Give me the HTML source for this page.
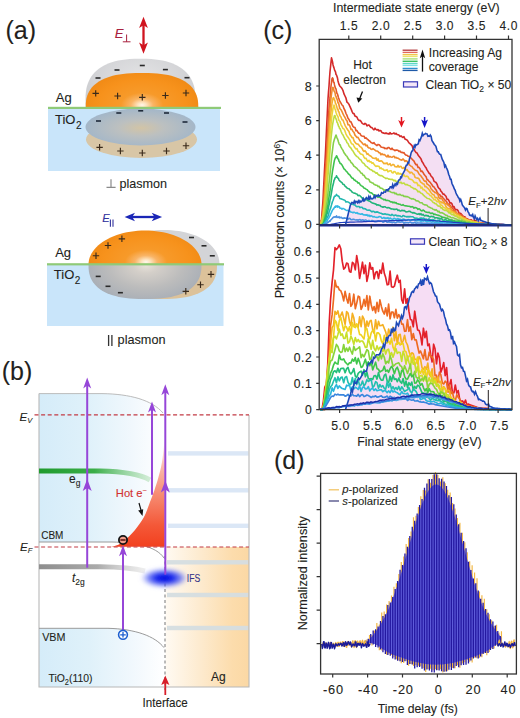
<!DOCTYPE html>
<html><head><meta charset="utf-8"><title>Figure</title>
<style>html,body{margin:0;padding:0;background:#fff;width:520px;height:718px;overflow:hidden} svg text{font-family:"Liberation Sans",sans-serif}</style>
</head><body>
<svg width="520" height="718" viewBox="0 0 520 718" style="display:block;font-family:'Liberation Sans',sans-serif">
<defs>
<radialGradient id="orgA" gradientUnits="userSpaceOnUse" cx="0" cy="0" r="1" gradientTransform="translate(142 105) scale(62 36)">
 <stop offset="0" stop-color="#fff6ea"/><stop offset="0.07" stop-color="#fde2bc"/><stop offset="0.18" stop-color="#f9b464"/>
 <stop offset="0.34" stop-color="#f79a2a"/><stop offset="0.7" stop-color="#f7921c"/><stop offset="1" stop-color="#f08914"/></radialGradient>
<radialGradient id="grayA" gradientUnits="userSpaceOnUse" cx="0" cy="0" r="1" gradientTransform="translate(141 80) scale(60 40)">
 <stop offset="0" stop-color="#e4e4e6"/><stop offset="1" stop-color="#cdced1"/></radialGradient>
<radialGradient id="bgEll" gradientUnits="userSpaceOnUse" cx="0" cy="0" r="1" gradientTransform="translate(141 128) scale(58 20)">
 <stop offset="0" stop-color="#d2c4a6"/><stop offset="0.4" stop-color="#bcc0c0"/><stop offset="1" stop-color="#a2b6c9"/></radialGradient>
<radialGradient id="orgB" gradientUnits="userSpaceOnUse" cx="0" cy="0" r="1" gradientTransform="translate(146 262) scale(62 36)">
 <stop offset="0" stop-color="#fff8ee"/><stop offset="0.07" stop-color="#fde4c0"/><stop offset="0.18" stop-color="#f9b466"/>
 <stop offset="0.34" stop-color="#f79a2a"/><stop offset="0.7" stop-color="#f7921c"/><stop offset="1" stop-color="#f08914"/></radialGradient>
<radialGradient id="silB" gradientUnits="userSpaceOnUse" cx="0" cy="0" r="1" gradientTransform="translate(146 266) scale(62 36)">
 <stop offset="0" stop-color="#e6e0d8"/><stop offset="0.2" stop-color="#d4cfc9"/><stop offset="0.6" stop-color="#bcbcbc"/>
 <stop offset="1" stop-color="#a8aeb6"/></radialGradient>
<linearGradient id="tio2L" x1="0" x2="1" y1="0" y2="0">
 <stop offset="0" stop-color="#d5ecf9"/><stop offset="0.4" stop-color="#dff1fa"/><stop offset="0.75" stop-color="#f1f8fd"/><stop offset="1" stop-color="#ffffff"/></linearGradient>
<linearGradient id="agR" x1="0" x2="1" y1="0" y2="0">
 <stop offset="0" stop-color="#fffaf2"/><stop offset="0.4" stop-color="#fdebd0"/><stop offset="0.8" stop-color="#fcdcac"/><stop offset="1" stop-color="#fbd8a4"/></linearGradient>
<linearGradient id="hotE" gradientUnits="userSpaceOnUse" x1="0" x2="0" y1="547" y2="438">
 <stop offset="0" stop-color="#f2401e"/><stop offset="0.2" stop-color="#f45838"/><stop offset="0.45" stop-color="#f6866c"/><stop offset="0.75" stop-color="#fabcae"/><stop offset="1" stop-color="#fdeae6" stop-opacity="0.5"/></linearGradient>
<linearGradient id="egG" x1="0" x2="1" y1="0" y2="0">
 <stop offset="0" stop-color="#1f9a2e"/><stop offset="0.5" stop-color="#3aae48"/><stop offset="1" stop-color="#b9e3bd" stop-opacity="0.6"/></linearGradient>
<linearGradient id="t2gG" x1="0" x2="1" y1="0" y2="0">
 <stop offset="0" stop-color="#8e8e8e"/><stop offset="0.55" stop-color="#aaaaaa"/><stop offset="1" stop-color="#e4e4e4" stop-opacity="0.6"/></linearGradient>
<radialGradient id="ifs" cx="0.5" cy="0.5" r="0.5">
 <stop offset="0" stop-color="#0006d8"/><stop offset="0.35" stop-color="#1020ec"/><stop offset="0.7" stop-color="#4a5af4" stop-opacity="0.7"/><stop offset="1" stop-color="#8a96fa" stop-opacity="0"/></radialGradient>
<filter id="blur1"><feGaussianBlur stdDeviation="0.6"/></filter>
<filter id="blur2" x="-30%" y="-60%" width="160%" height="220%"><feGaussianBlur stdDeviation="1.9"/></filter>
<clipPath id="aboveA"><rect x="0" y="0" width="260" height="108"/></clipPath>
<clipPath id="belowA"><rect x="0" y="108" width="260" height="100"/></clipPath>
<clipPath id="aboveB"><rect x="0" y="200" width="260" height="64.5"/></clipPath>
<clipPath id="belowB"><rect x="0" y="264.5" width="260" height="100"/></clipPath>
<marker id="ah" viewBox="0 0 10 10" refX="9" refY="5" markerWidth="4" markerHeight="4" orient="auto"><path d="M0 0L10 5L0 10z" fill="#000"/></marker>
</defs><rect width="520" height="718" fill="#fff"/><text x="5.5" y="39.1" font-size="25" fill="#231f20" stroke="#231f20" stroke-width="0.1" text-anchor="start" >(a)</text>
<path d="M143.5 24V47" stroke="#d0141f" stroke-width="2.3"/>
<path d="M139.1 28L143.5 16.7L147.9 28L143.5 25.2Z M139.1 42.5L143.5 53.8L147.9 42.5L143.5 45.3Z" fill="#d0141f"/>
<text x="114.8" y="37.9" font-size="13.2" font-style="italic" fill="#a8213e" stroke="#a8213e" stroke-width="0.1">E</text>
<path d="M122.8 41.8H130.5M126.6 34.5V41.8" stroke="#a8213e" stroke-width="1"/>
<rect x="48" y="108" width="172" height="63" fill="#c9e5fa"/>
<ellipse cx="141.5" cy="139.5" rx="55.5" ry="18.5" fill="#d9c29c" opacity="0.9"/>
<ellipse cx="140.5" cy="127" rx="55" ry="18.5" fill="url(#bgEll)"/>
<path d="M195.50 100.00 L195.41 104.65 L195.12 108.08 L194.65 111.15 L194.00 113.97 L193.15 116.62 L192.12 119.11 L190.91 121.45 L189.52 123.66 L187.95 125.74 L186.20 127.70 L184.28 129.52 L182.18 131.22 L179.91 132.79 L177.48 134.24 L174.87 135.54 L172.09 136.72 L169.14 137.76 L166.01 138.67 L162.68 139.44 L159.15 140.07 L155.38 140.57 L151.29 140.92 L146.71 141.13 L140.50 141.20 L134.29 141.13 L129.71 140.92 L125.62 140.57 L121.85 140.07 L118.32 139.44 L114.99 138.67 L111.86 137.76 L108.91 136.72 L106.13 135.54 L103.52 134.24 L101.09 132.79 L98.82 131.22 L96.72 129.52 L94.80 127.70 L93.05 125.74 L91.48 123.66 L90.09 121.45 L88.88 119.11 L87.85 116.62 L87.00 113.97 L86.35 111.15 L85.88 108.08 L85.59 104.65 L85.50 100.00 L85.59 95.35 L85.88 91.92 L86.35 88.85 L87.00 86.03 L87.85 83.38 L88.88 80.89 L90.09 78.55 L91.48 76.34 L93.05 74.26 L94.80 72.30 L96.72 70.48 L98.82 68.78 L101.09 67.21 L103.52 65.76 L106.13 64.46 L108.91 63.28 L111.86 62.24 L114.99 61.33 L118.32 60.56 L121.85 59.93 L125.62 59.43 L129.71 59.08 L134.29 58.87 L140.50 58.80 L146.71 58.87 L151.29 59.08 L155.38 59.43 L159.15 59.93 L162.68 60.56 L166.01 61.33 L169.14 62.24 L172.09 63.28 L174.87 64.46 L177.48 65.76 L179.91 67.21 L182.18 68.78 L184.28 70.48 L186.20 72.30 L187.95 74.26 L189.52 76.34 L190.91 78.55 L192.12 80.89 L193.15 83.38 L194.00 86.03 L194.65 88.85 L195.12 91.92 L195.41 95.35Z" fill="url(#grayA)" clip-path="url(#aboveA)"/>
<path d="M198.30 107.30 L198.20 111.17 L197.91 114.03 L197.43 116.58 L196.76 118.93 L195.90 121.13 L194.84 123.21 L193.61 125.16 L192.18 127.00 L190.57 128.73 L188.78 130.36 L186.81 131.88 L184.67 133.29 L182.35 134.60 L179.85 135.80 L177.18 136.89 L174.34 137.87 L171.31 138.74 L168.11 139.49 L164.71 140.14 L161.09 140.66 L157.23 141.07 L153.04 141.37 L148.35 141.54 L142.00 141.60 L135.65 141.54 L130.96 141.37 L126.77 141.07 L122.91 140.66 L119.29 140.14 L115.89 139.49 L112.69 138.74 L109.66 137.87 L106.82 136.89 L104.15 135.80 L101.65 134.60 L99.33 133.29 L97.19 131.88 L95.22 130.36 L93.43 128.73 L91.82 127.00 L90.39 125.16 L89.16 123.21 L88.10 121.13 L87.24 118.93 L86.57 116.58 L86.09 114.03 L85.80 111.17 L85.70 107.30 L85.80 103.43 L86.09 100.57 L86.57 98.02 L87.24 95.67 L88.10 93.47 L89.16 91.39 L90.39 89.44 L91.82 87.60 L93.43 85.87 L95.22 84.24 L97.19 82.72 L99.33 81.31 L101.65 80.00 L104.15 78.80 L106.82 77.71 L109.66 76.73 L112.69 75.86 L115.89 75.11 L119.29 74.46 L122.91 73.94 L126.77 73.53 L130.96 73.23 L135.65 73.06 L142.00 73.00 L148.35 73.06 L153.04 73.23 L157.23 73.53 L161.09 73.94 L164.71 74.46 L168.11 75.11 L171.31 75.86 L174.34 76.73 L177.18 77.71 L179.85 78.80 L182.35 80.00 L184.67 81.31 L186.81 82.72 L188.78 84.24 L190.57 85.87 L192.18 87.60 L193.61 89.44 L194.84 91.39 L195.90 93.47 L196.76 95.67 L197.43 98.02 L197.91 100.57 L198.20 103.43Z" fill="url(#orgA)" clip-path="url(#aboveA)"/>
<rect x="48" y="106.8" width="173" height="2.2" fill="#8fca78"/>
<text x="55.8" y="102.4" font-size="13" fill="#231f20" stroke="#231f20" stroke-width="0.1" text-anchor="start" >Ag</text>
<text x="55" y="123.9" font-size="13" fill="#231f20" stroke="#231f20" stroke-width="0.1">TiO<tspan font-size="10" dy="5.2" dx="0.6">2</tspan></text>
<path d="M95.5 78H100.5" stroke="#2a2a2a" stroke-width="1.6" fill="none"/>
<path d="M114.5 70H119.5" stroke="#2a2a2a" stroke-width="1.6" fill="none"/>
<path d="M139.8 65.5H144.8" stroke="#2a2a2a" stroke-width="1.6" fill="none"/>
<path d="M162.9 69.6H167.9" stroke="#2a2a2a" stroke-width="1.6" fill="none"/>
<path d="M184.5 77.7H189.5" stroke="#2a2a2a" stroke-width="1.6" fill="none"/>
<path d="M92.5 93.4H98.9M95.7 90.2V96.6" stroke="#3a2a1a" stroke-width="1.15" fill="none"/>
<path d="M114.4 96H120.8M117.6 92.8V99.2" stroke="#3a2a1a" stroke-width="1.15" fill="none"/>
<path d="M139.1 97.3H145.5M142.3 94.1V100.5" stroke="#3a2a1a" stroke-width="1.15" fill="none"/>
<path d="M162.2 95.5H168.6M165.4 92.3V98.7" stroke="#3a2a1a" stroke-width="1.15" fill="none"/>
<path d="M182.8 93H189.2M186 89.8V96.2" stroke="#3a2a1a" stroke-width="1.15" fill="none"/>
<path d="M96 121H101" stroke="#1e2a3a" stroke-width="1.6" fill="none"/>
<path d="M116.3 113H121.3" stroke="#1e2a3a" stroke-width="1.6" fill="none"/>
<path d="M138.2 110.8H143.2" stroke="#1e2a3a" stroke-width="1.6" fill="none"/>
<path d="M164 113H169" stroke="#1e2a3a" stroke-width="1.6" fill="none"/>
<path d="M182.5 122H187.5" stroke="#1e2a3a" stroke-width="1.6" fill="none"/>
<path d="M96.4 147.3H102.8M99.6 144.1V150.5" stroke="#3a2a1a" stroke-width="1.15" fill="none"/>
<path d="M117.2 151H123.6M120.4 147.8V154.2" stroke="#3a2a1a" stroke-width="1.15" fill="none"/>
<path d="M139.1 153H145.5M142.3 149.8V156.2" stroke="#3a2a1a" stroke-width="1.15" fill="none"/>
<path d="M163.3 151H169.7M166.5 147.8V154.2" stroke="#3a2a1a" stroke-width="1.15" fill="none"/>
<path d="M182.8 145.7H189.2M186 142.5V148.9" stroke="#3a2a1a" stroke-width="1.15" fill="none"/>
<path d="M106.5 187.4H115.6M111 179.2V187.4" stroke="#8a8a8a" stroke-width="1.2"/>
<text x="119.5" y="187.9" font-size="12.6" fill="#231f20" stroke="#231f20" stroke-width="0.1" text-anchor="start" >plasmon</text>
<text x="102.2" y="221.6" font-size="11.2" font-style="italic" fill="#34349e" stroke="#34349e" stroke-width="0.1">E</text>
<path d="M110.4 219.5V226.7M113 219.5V226.7" stroke="#34349e" stroke-width="1.1"/>
<path d="M131 217H156" stroke="#1a26b6" stroke-width="2.3"/>
<path d="M135 212.7L124.6 217L135 221.3L132.2 217Z M151.7 212.7L162.1 217L151.7 221.3L154.5 217Z" fill="#1a26b6"/>
<rect x="47" y="264" width="176.5" height="62" fill="#c9e5fa"/>
<path d="M217.00 265.00 L216.90 268.84 L216.62 271.67 L216.14 274.20 L215.47 276.53 L214.61 278.71 L213.56 280.77 L212.33 282.70 L210.91 284.53 L209.31 286.25 L207.53 287.86 L205.57 289.37 L203.44 290.77 L201.13 292.06 L198.65 293.25 L195.99 294.33 L193.16 295.30 L190.16 296.16 L186.97 296.91 L183.59 297.55 L179.99 298.07 L176.15 298.48 L171.98 298.77 L167.32 298.94 L161.00 299.00 L154.68 298.94 L150.02 298.77 L145.85 298.48 L142.01 298.07 L138.41 297.55 L135.03 296.91 L131.84 296.16 L128.84 295.30 L126.01 294.33 L123.35 293.25 L120.87 292.06 L118.56 290.77 L116.43 289.37 L114.47 287.86 L112.69 286.25 L111.09 284.53 L109.67 282.70 L108.44 280.77 L107.39 278.71 L106.53 276.53 L105.86 274.20 L105.38 271.67 L105.10 268.84 L105.00 265.00 L105.10 261.16 L105.38 258.33 L105.86 255.80 L106.53 253.47 L107.39 251.29 L108.44 249.23 L109.67 247.30 L111.09 245.47 L112.69 243.75 L114.47 242.14 L116.43 240.63 L118.56 239.23 L120.87 237.94 L123.35 236.75 L126.01 235.67 L128.84 234.70 L131.84 233.84 L135.03 233.09 L138.41 232.45 L142.01 231.93 L145.85 231.52 L150.02 231.23 L154.68 231.06 L161.00 231.00 L167.32 231.06 L171.98 231.23 L176.15 231.52 L179.99 231.93 L183.59 232.45 L186.97 233.09 L190.16 233.84 L193.16 234.70 L195.99 235.67 L198.65 236.75 L201.13 237.94 L203.44 239.23 L205.57 240.63 L207.53 242.14 L209.31 243.75 L210.91 245.47 L212.33 247.30 L213.56 249.23 L214.61 251.29 L215.47 253.47 L216.14 255.80 L216.62 258.33 L216.90 261.16Z" fill="#dcc29a" clip-path="url(#belowB)"/>
<path d="M219.50 264.50 L219.39 267.07 L219.04 269.46 L218.47 271.78 L217.68 274.02 L216.67 276.21 L215.43 278.32 L213.99 280.36 L212.33 282.33 L210.47 284.21 L208.42 286.00 L206.18 287.70 L203.76 289.30 L201.16 290.79 L198.41 292.17 L195.50 293.44 L192.44 294.58 L189.25 295.60 L185.93 296.49 L182.50 297.25 L178.96 297.88 L175.31 298.37 L171.55 298.72 L167.67 298.93 L163.50 299.00 L159.33 298.93 L155.45 298.72 L151.69 298.37 L148.04 297.88 L144.50 297.25 L141.07 296.49 L137.75 295.60 L134.56 294.58 L131.50 293.44 L128.59 292.17 L125.84 290.79 L123.24 289.30 L120.82 287.70 L118.58 286.00 L116.53 284.21 L114.67 282.33 L113.01 280.36 L111.57 278.32 L110.33 276.21 L109.32 274.02 L108.53 271.78 L107.96 269.46 L107.61 267.07 L107.50 264.50 L107.61 261.93 L107.96 259.54 L108.53 257.22 L109.32 254.98 L110.33 252.79 L111.57 250.68 L113.01 248.64 L114.67 246.67 L116.53 244.79 L118.58 243.00 L120.82 241.30 L123.24 239.70 L125.84 238.21 L128.59 236.83 L131.50 235.56 L134.56 234.42 L137.75 233.40 L141.07 232.51 L144.50 231.75 L148.04 231.12 L151.69 230.63 L155.45 230.28 L159.33 230.07 L163.50 230.00 L167.67 230.07 L171.55 230.28 L175.31 230.63 L178.96 231.12 L182.50 231.75 L185.93 232.51 L189.25 233.40 L192.44 234.42 L195.50 235.56 L198.41 236.83 L201.16 238.21 L203.76 239.70 L206.18 241.30 L208.42 243.00 L210.47 244.79 L212.33 246.67 L213.99 248.64 L215.43 250.68 L216.67 252.79 L217.68 254.98 L218.47 257.22 L219.04 259.54 L219.39 261.93Z" fill="#d3d4d7" clip-path="url(#aboveB)"/>
<path d="M201.50 264.50 L201.38 266.72 L201.02 268.94 L200.41 271.13 L199.57 273.30 L198.50 275.43 L197.20 277.51 L195.67 279.54 L193.93 281.50 L191.98 283.39 L189.82 285.20 L187.48 286.92 L184.95 288.54 L182.25 290.06 L179.40 291.47 L176.39 292.77 L173.25 293.94 L169.99 294.99 L166.62 295.91 L163.16 296.70 L159.62 297.34 L156.02 297.85 L152.37 298.21 L148.70 298.43 L145.00 298.50 L141.30 298.43 L137.63 298.21 L133.98 297.85 L130.38 297.34 L126.84 296.70 L123.38 295.91 L120.01 294.99 L116.75 293.94 L113.61 292.77 L110.60 291.47 L107.75 290.06 L105.05 288.54 L102.52 286.92 L100.18 285.20 L98.02 283.39 L96.07 281.50 L94.33 279.54 L92.80 277.51 L91.50 275.43 L90.43 273.30 L89.59 271.13 L88.98 268.94 L88.62 266.72 L88.50 264.50 L88.62 262.28 L88.98 260.06 L89.59 257.87 L90.43 255.70 L91.50 253.57 L92.80 251.49 L94.33 249.46 L96.07 247.50 L98.02 245.61 L100.18 243.80 L102.52 242.08 L105.05 240.46 L107.75 238.94 L110.60 237.53 L113.61 236.23 L116.75 235.06 L120.01 234.01 L123.38 233.09 L126.84 232.30 L130.38 231.66 L133.98 231.15 L137.63 230.79 L141.30 230.57 L145.00 230.50 L148.70 230.57 L152.37 230.79 L156.02 231.15 L159.62 231.66 L163.16 232.30 L166.62 233.09 L169.99 234.01 L173.25 235.06 L176.39 236.23 L179.40 237.53 L182.25 238.94 L184.95 240.46 L187.48 242.08 L189.82 243.80 L191.98 245.61 L193.93 247.50 L195.67 249.46 L197.20 251.49 L198.50 253.57 L199.57 255.70 L200.41 257.87 L201.02 260.06 L201.38 262.28Z" fill="url(#orgB)" clip-path="url(#aboveB)"/>
<path d="M201.50 264.50 L201.40 268.39 L201.11 271.27 L200.63 273.83 L199.95 276.20 L199.09 278.42 L198.03 280.50 L196.79 282.46 L195.36 284.32 L193.74 286.06 L191.95 287.69 L189.97 289.22 L187.82 290.65 L185.49 291.96 L182.98 293.17 L180.31 294.26 L177.45 295.25 L174.42 296.12 L171.20 296.88 L167.79 297.53 L164.16 298.06 L160.28 298.47 L156.08 298.76 L151.38 298.94 L145.00 299.00 L138.62 298.94 L133.92 298.76 L129.72 298.47 L125.84 298.06 L122.21 297.53 L118.80 296.88 L115.58 296.12 L112.55 295.25 L109.69 294.26 L107.02 293.17 L104.51 291.96 L102.18 290.65 L100.03 289.22 L98.05 287.69 L96.26 286.06 L94.64 284.32 L93.21 282.46 L91.97 280.50 L90.91 278.42 L90.05 276.20 L89.37 273.83 L88.89 271.27 L88.60 268.39 L88.50 264.50 L88.60 260.61 L88.89 257.73 L89.37 255.17 L90.05 252.80 L90.91 250.58 L91.97 248.50 L93.21 246.54 L94.64 244.68 L96.26 242.94 L98.05 241.31 L100.03 239.78 L102.18 238.35 L104.51 237.04 L107.02 235.83 L109.69 234.74 L112.55 233.75 L115.58 232.88 L118.80 232.12 L122.21 231.47 L125.84 230.94 L129.72 230.53 L133.92 230.24 L138.62 230.06 L145.00 230.00 L151.38 230.06 L156.08 230.24 L160.28 230.53 L164.16 230.94 L167.79 231.47 L171.20 232.12 L174.42 232.88 L177.45 233.75 L180.31 234.74 L182.98 235.83 L185.49 237.04 L187.82 238.35 L189.97 239.78 L191.95 241.31 L193.74 242.94 L195.36 244.68 L196.79 246.54 L198.03 248.50 L199.09 250.58 L199.95 252.80 L200.63 255.17 L201.11 257.73 L201.40 260.61Z" fill="url(#silB)" clip-path="url(#belowB)"/>
<rect x="47" y="263.2" width="177" height="2.2" fill="#8fca78"/>
<text x="55.2" y="257.4" font-size="13" fill="#231f20" stroke="#231f20" stroke-width="0.1" text-anchor="start" >Ag</text>
<text x="53.8" y="279.2" font-size="13" fill="#231f20" stroke="#231f20" stroke-width="0.1">TiO<tspan font-size="10" dy="4.4" dx="0.6">2</tspan></text>
<path d="M92.8 255.7H99.2M96 252.5V258.9" stroke="#3a2a1a" stroke-width="1.15" fill="none"/>
<path d="M104.8 245.5H111.2M108 242.3V248.7" stroke="#3a2a1a" stroke-width="1.15" fill="none"/>
<path d="M118.7 238.8H125.1M121.9 235.6V242" stroke="#3a2a1a" stroke-width="1.15" fill="none"/>
<path d="M207.8 274.3H214.2M211 271.1V277.5" stroke="#3a2a1a" stroke-width="1.15" fill="none"/>
<path d="M197.3 284.7H203.7M200.5 281.5V287.9" stroke="#3a2a1a" stroke-width="1.15" fill="none"/>
<path d="M182.6 291.3H189M185.8 288.1V294.5" stroke="#3a2a1a" stroke-width="1.15" fill="none"/>
<path d="M189 237.5H194" stroke="#2a2a2a" stroke-width="1.6" fill="none"/>
<path d="M201.5 245.8H206.5" stroke="#2a2a2a" stroke-width="1.6" fill="none"/>
<path d="M209.8 255.8H214.8" stroke="#2a2a2a" stroke-width="1.6" fill="none"/>
<path d="M95.7 276.4H100.7" stroke="#2a2a2a" stroke-width="1.6" fill="none"/>
<path d="M105.5 286.3H110.5" stroke="#2a2a2a" stroke-width="1.6" fill="none"/>
<path d="M117.9 292.7H122.9" stroke="#2a2a2a" stroke-width="1.6" fill="none"/>
<path d="M108.6 335V346M111.9 335V346" stroke="#333" stroke-width="1.3"/>
<text x="117.6" y="344" font-size="12.7" fill="#231f20" stroke="#231f20" stroke-width="0.1" text-anchor="start" >plasmon</text>
<text x="1.8" y="380.2" font-size="25" fill="#231f20" stroke="#231f20" stroke-width="0.1" text-anchor="start" >(b)</text>
<path d="M39 393.6H102C130 394 152 400 163 413V542H39Z" fill="url(#tio2L)"/>
<path d="M39 628.3H108C135 629 155 636 164 647.7V687H39Z" fill="url(#tio2L)"/>
<rect x="165.5" y="547" width="83.5" height="140" fill="url(#agR)"/>
<rect x="168" y="451.2" width="80.5" height="4.4" fill="#dbe7f6"/>
<rect x="168" y="488.1" width="80.5" height="4.4" fill="#dbe7f6"/>
<rect x="168" y="523.5999999999999" width="80.5" height="4.4" fill="#dbe7f6"/>
<rect x="167" y="560.0999999999999" width="81.5" height="4.4" fill="#d5dde0" opacity="0.95"/>
<rect x="167" y="592.8" width="81.5" height="4.4" fill="#d5dde0" opacity="0.95"/>
<rect x="167" y="625.8" width="81.5" height="4.4" fill="#d5dde0" opacity="0.95"/>
<path d="M39 393.6V687H249V415" stroke="#b8b8b8" stroke-width="1.1" fill="none"/>
<path d="M39 393.6H102C130 394 152 400 163 413" stroke="#bcbcbc" stroke-width="1" fill="none"/>
<path d="M39 542H112C135 542.5 156 546 164 558" stroke="#9a9a9a" stroke-width="1" fill="none"/>
<path d="M39 628.3H108C135 629 155 636 164 647.7" stroke="#9a9a9a" stroke-width="1" fill="none"/>
<path d="M39 471H100C125 471.5 140 474 150 480" stroke="url(#egG)" stroke-width="5" fill="none"/>
<path d="M39 566.8H100C120 567 135 568.5 145 571" stroke="url(#t2gG)" stroke-width="5" fill="none"/>
<path d="M111.0 546.8C112.0 546.5 115.1 546.0 117.0 545.3C118.9 544.5 120.5 543.8 122.5 542.3C124.5 540.8 126.9 538.5 129.0 536.5C131.1 534.5 133.1 532.3 135.0 530.0C136.9 527.7 138.8 525.0 140.5 522.5C142.2 520.0 143.4 518.4 145.0 515.0C146.6 511.6 148.4 506.2 150.0 502.0C151.6 497.8 153.1 494.2 154.5 490.0C155.9 485.8 157.2 481.7 158.5 477.0C159.8 472.3 160.9 468.5 162.0 462.0C163.1 455.5 164.3 442.0 164.8 438.0V546.8Z" fill="url(#hotE)"/>
<path d="M165 556V690" stroke="#777" stroke-width="1" stroke-dasharray="3 2.5"/>
<path d="M34.5 414.8H249" stroke="#c23a44" stroke-width="1.2" stroke-dasharray="4 2.6"/>
<path d="M34.5 547H249" stroke="#c23a44" stroke-width="1.2" stroke-dasharray="4 2.6"/>
<ellipse cx="164.5" cy="578" rx="24" ry="10" fill="url(#ifs)" filter="url(#blur2)"/>
<path d="M87.2 567.7V383.5" stroke="#9646d8" stroke-width="2.0"/>
<path d="M83.2 388.5L87.2 377.5L91.2 388.5L87.2 385.5Z" fill="#9646d8"/>
<path d="M82.7 491L87.2 479L91.7 491L87.2 488Z" fill="#9646d8"/>
<path d="M152 494.7V407.6" stroke="#9646d8" stroke-width="2.0"/>
<path d="M148 412.6L152 401.6L156 412.6L152 409.6Z" fill="#9646d8"/>
<path d="M165.3 574.7V390.3" stroke="#9646d8" stroke-width="2.0"/>
<path d="M161.3 395.3L165.3 384.3L169.3 395.3L165.3 392.3Z" fill="#9646d8"/>
<path d="M160.8 492.5L165.3 480.5L169.8 492.5L165.3 489.5Z" fill="#9646d8"/>
<path d="M123 631V551.2" stroke="#9646d8" stroke-width="2.0"/>
<path d="M119 556.2L123 545.2L127 556.2L123 553.2Z" fill="#9646d8"/>
<circle cx="123" cy="540" r="4.1" fill="#f3a08c" stroke="#151515" stroke-width="1.8"/>
<path d="M120.4 540H125.6" stroke="#5a1010" stroke-width="1.5"/>
<circle cx="123" cy="634.8" r="4.4" fill="#fff" stroke="#1d5fd0" stroke-width="1.6"/>
<path d="M120.2 634.8H125.8M123 632V637.6" stroke="#1d5fd0" stroke-width="1.3"/>
<text x="19.5" y="420.5" font-size="11.5" font-style="italic" fill="#231f20" stroke="#231f20" stroke-width="0.1">E<tspan font-size="7.5" dy="2.2">V</tspan></text>
<text x="20" y="550.6" font-size="11.5" font-style="italic" fill="#231f20" stroke="#231f20" stroke-width="0.1">E<tspan font-size="7.5" dy="2.2">F</tspan></text>
<text x="69" y="483" font-size="12" fill="#231f20" stroke="#231f20" stroke-width="0.1">e<tspan font-size="8.5" dy="2.5">g</tspan></text>
<text x="72" y="582" font-size="12" font-style="italic" fill="#231f20" stroke="#231f20" stroke-width="0.1">t<tspan font-size="8.5" dy="2.5" font-style="normal">2g</tspan></text>
<text x="41.2" y="539" font-size="11.8" fill="#231f20" stroke="#231f20" stroke-width="0.1" text-anchor="start" textLength="22.2" lengthAdjust="spacingAndGlyphs">CBM</text>
<text x="42.2" y="640.6" font-size="11.8" fill="#231f20" stroke="#231f20" stroke-width="0.1" text-anchor="start" textLength="23.3" lengthAdjust="spacingAndGlyphs">VBM</text>
<text x="115.8" y="497" font-size="11.2" fill="#d2312f" stroke="#d2312f" stroke-width="0.1">Hot e<tspan font-size="7.5" dy="-4">−</tspan></text>
<path d="M139 503L141.5 512" stroke="#111" stroke-width="1.2"/><path d="M138.2 510.5L142.5 516L143.2 509.2Z" fill="#111"/>
<text x="186.8" y="581.6" font-size="10.3" fill="#33338a" stroke="#33338a" stroke-width="0.1" text-anchor="start" textLength="13.4" lengthAdjust="spacingAndGlyphs">IFS</text>
<text x="48.5" y="681.5" font-size="11.6" fill="#231f20" textLength="44" lengthAdjust="spacingAndGlyphs" stroke="#231f20" stroke-width="0.1">TiO<tspan font-size="8.3" dy="3">2</tspan><tspan dy="-3">(110)</tspan></text>
<text x="211" y="681" font-size="12" fill="#231f20" stroke="#231f20" stroke-width="0.1" text-anchor="start" >Ag</text>
<path d="M165.3 682V695" stroke="#d81f2a" stroke-width="1.8"/>
<path d="M161.2 685L165.3 675.4L169.4 685L165.3 683Z" fill="#d81f2a"/>
<text x="142.6" y="707.3" font-size="12.2" fill="#231f20" stroke="#231f20" stroke-width="0.1" text-anchor="start" textLength="45.2" lengthAdjust="spacingAndGlyphs">Interface</text>
<text x="263.3" y="38.6" font-size="25" fill="#231f20" stroke="#231f20" stroke-width="0.1" text-anchor="start" >(c)</text>
<text x="333" y="11.9" font-size="12.35" fill="#231f20" stroke="#231f20" stroke-width="0.1" text-anchor="start" >Intermediate state energy (eV)</text>
<text transform="translate(284.2,298.3) rotate(-90)" font-size="12.5" fill="#231f20" stroke="#231f20" stroke-width="0.1">Photoelectron counts (× 10<tspan font-size="8.3" dy="-4.2">6</tspan><tspan dy="4.2">)</tspan></text>
<path d="M345.5 224.9 L346.3 221.7 L347.1 218.5 L347.9 215.2 L348.7 211.9 L349.5 208.6 L350.3 205.3 L351.1 203.7 L351.9 202.4 L352.7 202.7 L353.5 203.2 L354.3 201.2 L355.1 203.1 L355.9 201.3 L356.7 201.7 L357.5 202.7 L358.3 200.9 L359.1 202.4 L359.9 200.8 L360.7 202.0 L361.5 201.7 L362.3 200.4 L363.1 198.7 L363.9 201.1 L364.7 200.6 L365.5 198.9 L366.3 197.6 L367.1 198.7 L367.9 199.1 L368.7 196.8 L369.5 199.9 L370.3 196.8 L371.1 198.6 L371.9 198.9 L372.7 198.7 L373.5 197.8 L374.3 195.8 L375.1 197.8 L375.9 196.1 L376.7 195.5 L377.5 196.0 L378.3 195.0 L379.1 196.3 L379.9 195.9 L380.7 195.0 L381.5 192.8 L382.3 193.3 L383.1 193.3 L383.9 191.9 L384.7 192.0 L385.5 192.1 L386.3 189.8 L387.1 189.6 L387.9 190.7 L388.7 188.9 L389.5 188.6 L390.3 186.7 L391.1 186.7 L391.9 187.8 L392.7 184.7 L393.5 187.3 L394.3 185.7 L395.1 183.9 L395.9 185.3 L396.7 183.2 L397.5 184.1 L398.3 181.0 L399.1 179.8 L399.9 179.7 L400.7 177.1 L401.5 177.6 L402.3 174.6 L403.1 173.4 L403.9 171.8 L404.7 170.5 L405.5 167.3 L406.3 165.2 L407.1 165.1 L407.9 162.6 L408.7 163.0 L409.5 158.7 L410.3 156.5 L411.1 152.9 L411.9 151.2 L412.7 150.8 L413.5 148.1 L414.3 145.5 L415.1 147.0 L415.9 144.6 L416.7 144.9 L417.5 144.3 L418.3 143.7 L419.1 139.8 L419.9 140.6 L420.7 138.6 L421.5 136.6 L422.3 133.3 L423.1 135.5 L423.9 134.4 L424.7 134.3 L425.5 133.4 L426.3 133.8 L427.1 133.9 L427.9 136.2 L428.7 135.9 L429.5 136.3 L430.3 135.0 L431.1 136.2 L431.9 140.5 L432.7 141.8 L433.5 143.0 L434.3 144.5 L435.1 145.2 L435.9 146.4 L436.7 149.2 L437.5 151.7 L438.3 151.8 L439.1 153.5 L439.9 154.3 L440.7 154.5 L441.5 157.0 L442.3 159.4 L443.1 160.9 L443.9 162.5 L444.7 166.6 L445.5 165.3 L446.3 167.6 L447.1 169.1 L447.9 171.2 L448.7 174.5 L449.5 176.3 L450.3 179.2 L451.1 179.2 L451.9 183.2 L452.7 185.2 L453.5 186.7 L454.3 188.9 L455.1 190.2 L455.9 192.8 L456.7 194.7 L457.5 195.8 L458.3 197.6 L459.1 198.3 L459.9 201.1 L460.7 199.5 L461.5 201.8 L462.3 204.9 L463.1 205.9 L463.9 206.9 L464.7 208.1 L465.5 210.0 L466.3 208.4 L467.1 208.8 L467.9 211.7 L468.7 212.6 L469.5 214.9 L470.3 215.5 L471.1 215.2 L471.9 216.0 L472.7 214.6 L473.5 217.5 L474.3 218.6 L475.1 215.8 L475.9 217.7 L476.7 219.5 L477.5 218.5 L478.3 220.8 L479.1 219.3 L479.9 218.1 L480.7 220.3 L481.5 220.6 L482.3 220.9 L483.1 221.2 L483.9 221.5 L484.7 221.8 L485.5 222.1 L486.3 222.4 L487.1 222.6 L487.9 222.7 L488.7 222.9 L489.5 223.1 L490.3 223.3 L491.1 223.5 L491.9 223.7 L492.7 223.8 L493.5 223.9 L494.3 224.0 L495.1 224.0 L495.9 224.1 L496.7 224.2 L497.5 224.3 L498.3 224.3 L499.1 224.4 L499.9 224.5 L500.7 224.5 L501.5 224.6 L502.3 224.6 L503.1 224.6 L503.9 224.6 L504.7 224.7 L505.5 224.7 L506.3 224.7 L507.1 224.7 L507.9 224.8 L508.7 224.8 L509.5 224.8 L510.3 224.8 L511.1 224.9 L511.9 224.9 L512 224.9 L345.5 224.9Z" fill="#f4dff3" stroke="none"/>
<path d="M319.5 224.9 L320.0 224.9 L320.5 224.1 L321.0 221.2 L321.5 219.5 L322.0 213.7 L322.5 206.8 L323.0 200.6 L323.5 189.5 L324.0 180.3 L324.5 170.0 L325.0 161.3 L325.5 151.8 L326.0 140.7 L326.5 129.9 L327.0 119.7 L327.5 109.4 L328.0 98.9 L328.5 92.0 L329.0 86.1 L329.5 78.3 L330.0 71.6 L330.5 66.8 L331.0 62.4 L331.5 57.9 L332.0 59.8 L332.5 61.7 L333.0 64.7 L333.5 66.6 L334.0 67.9 L334.5 69.9 L335.0 70.8 L335.5 71.8 L336.0 74.5 L336.5 75.0 L337.0 76.4 L337.5 78.1 L338.0 81.0 L338.5 82.8 L339.0 84.4 L339.5 85.4 L340.0 86.3 L341.0 87.3 L342.0 88.5 L343.0 90.6 L344.0 93.9 L345.0 96.0 L346.0 98.2 L347.0 102.2 L348.0 103.0 L349.0 104.4 L350.0 106.7 L351.0 108.8 L352.0 111.4 L353.0 113.5 L354.0 113.6 L355.0 116.1 L356.0 116.5 L357.0 117.2 L358.0 119.5 L359.0 120.5 L360.0 120.4 L361.0 121.4 L362.0 123.2 L363.0 123.9 L364.0 124.4 L365.0 123.3 L366.0 124.0 L367.0 126.0 L368.0 125.0 L369.0 125.1 L370.0 126.4 L371.0 127.5 L372.0 127.6 L373.0 129.0 L374.0 129.8 L375.0 128.2 L376.0 129.4 L377.0 130.0 L378.0 129.5 L379.0 131.0 L380.0 130.4 L381.0 130.8 L382.0 132.6 L383.0 132.9 L384.0 133.1 L385.0 133.6 L386.0 132.9 L387.0 133.7 L388.0 133.5 L389.0 134.2 L390.0 132.6 L391.0 133.9 L392.0 133.7 L393.0 133.5 L394.0 132.9 L395.0 134.1 L396.0 133.3 L397.0 134.5 L398.0 134.8 L399.0 135.1 L400.0 136.5 L401.0 135.9 L402.0 136.8 L403.0 137.5 L404.0 136.7 L405.0 139.1 L406.0 139.5 L407.0 139.9 L408.0 141.3 L409.0 142.9 L410.0 143.6 L411.0 144.6 L412.0 145.6 L413.0 148.5 L414.0 149.0 L415.0 151.1 L416.0 152.5 L417.0 152.9 L418.0 155.0 L419.0 156.3 L420.0 157.5 L421.0 158.9 L422.0 161.6 L423.0 162.9 L424.0 164.8 L425.0 166.4 L426.0 167.7 L427.0 169.9 L428.0 171.4 L429.0 173.2 L430.0 173.8 L431.0 176.0 L432.0 177.0 L433.0 178.3 L434.0 181.2 L435.0 181.9 L436.0 182.5 L437.0 184.1 L438.0 187.0 L439.0 188.4 L440.0 189.1 L441.0 191.3 L442.0 192.3 L443.0 194.1 L444.0 194.1 L445.0 195.2 L446.0 196.2 L447.0 199.2 L448.0 199.2 L449.0 200.7 L450.0 203.1 L451.0 202.8 L452.0 203.9 L453.0 206.9 L454.0 206.6 L455.0 209.1 L456.0 209.7 L457.0 209.5 L458.0 210.6 L459.0 213.0 L460.0 213.2 L461.0 213.8 L462.0 215.1 L463.0 216.2 L464.0 216.8 L465.0 216.7 L466.0 219.1 L467.0 218.8 L468.0 219.3 L469.0 220.6 L470.0 220.2 L471.0 219.8 L472.0 220.4 L473.0 221.7 L474.0 220.0 L475.0 220.7 L476.0 220.6 L477.0 222.8 L478.0 222.8 L479.0 223.6 L480.0 222.3 L481.0 223.0 L482.0 223.1 L483.0 223.2 L484.0 223.3 L485.0 223.4 L486.0 223.5 L487.0 223.6 L488.0 223.7 L489.0 223.8 L490.0 223.9 L491.0 224.0 L492.0 224.1 L493.0 224.2 L494.0 224.3 L495.0 224.4 L496.0 224.4 L497.0 224.5 L498.0 224.5 L499.0 224.5 L500.0 224.5 L501.0 224.6 L502.0 224.6 L503.0 224.6 L504.0 224.7 L505.0 224.7 L506.0 224.7 L507.0 224.8 L508.0 224.8 L509.0 224.8 L510.0 224.8 L511.0 224.9 L512.0 224.9" stroke="#d42a2a" stroke-width="1.6" fill="none" stroke-linejoin="round"/>
<path d="M319.5 224.2 L320.0 223.7 L320.5 223.1 L321.0 223.0 L321.5 221.3 L322.0 218.3 L322.5 213.1 L323.0 207.5 L323.5 202.8 L324.0 195.9 L324.5 185.8 L325.0 178.1 L325.5 169.4 L326.0 162.3 L326.5 153.8 L327.0 143.5 L327.5 135.0 L328.0 126.6 L328.5 115.8 L329.0 108.9 L329.5 102.3 L330.0 97.7 L330.5 90.8 L331.0 86.1 L331.5 82.4 L332.0 78.7 L332.5 77.8 L333.0 78.7 L333.5 82.2 L334.0 82.2 L334.5 84.9 L335.0 86.9 L335.5 88.2 L336.0 88.9 L336.5 91.8 L337.0 93.5 L337.5 94.0 L338.0 96.1 L338.5 97.8 L339.0 99.0 L339.5 100.7 L340.0 101.5 L341.0 103.1 L342.0 105.0 L343.0 105.8 L344.0 108.7 L345.0 110.5 L346.0 113.5 L347.0 115.4 L348.0 118.2 L349.0 119.5 L350.0 121.7 L351.0 121.9 L352.0 124.1 L353.0 126.5 L354.0 127.3 L355.0 127.6 L356.0 130.8 L357.0 130.5 L358.0 132.4 L359.0 133.3 L360.0 133.6 L361.0 135.5 L362.0 135.9 L363.0 136.2 L364.0 136.2 L365.0 138.3 L366.0 137.9 L367.0 138.9 L368.0 139.6 L369.0 140.7 L370.0 141.3 L371.0 142.5 L372.0 142.9 L373.0 143.5 L374.0 142.6 L375.0 144.2 L376.0 144.9 L377.0 145.6 L378.0 144.4 L379.0 144.7 L380.0 145.6 L381.0 146.9 L382.0 147.3 L383.0 147.6 L384.0 147.6 L385.0 148.6 L386.0 148.3 L387.0 148.9 L388.0 147.5 L389.0 147.6 L390.0 148.7 L391.0 149.5 L392.0 148.1 L393.0 149.7 L394.0 149.7 L395.0 150.7 L396.0 150.0 L397.0 150.1 L398.0 150.4 L399.0 151.4 L400.0 151.0 L401.0 152.4 L402.0 152.2 L403.0 152.9 L404.0 152.6 L405.0 154.3 L406.0 155.1 L407.0 155.3 L408.0 156.3 L409.0 156.4 L410.0 157.5 L411.0 157.9 L412.0 159.1 L413.0 160.2 L414.0 161.1 L415.0 163.3 L416.0 164.7 L417.0 164.4 L418.0 167.5 L419.0 167.4 L420.0 168.8 L421.0 171.5 L422.0 171.1 L423.0 172.4 L424.0 174.3 L425.0 175.5 L426.0 176.6 L427.0 179.5 L428.0 180.0 L429.0 181.4 L430.0 182.1 L431.0 183.5 L432.0 184.8 L433.0 186.5 L434.0 186.9 L435.0 188.6 L436.0 189.7 L437.0 191.9 L438.0 193.5 L439.0 194.4 L440.0 195.0 L441.0 196.8 L442.0 196.3 L443.0 198.0 L444.0 199.0 L445.0 200.1 L446.0 201.0 L447.0 202.5 L448.0 204.7 L449.0 204.0 L450.0 205.2 L451.0 206.8 L452.0 207.8 L453.0 208.6 L454.0 210.9 L455.0 210.5 L456.0 212.5 L457.0 213.6 L458.0 213.9 L459.0 213.6 L460.0 215.4 L461.0 214.9 L462.0 215.1 L463.0 216.8 L464.0 217.8 L465.0 218.2 L466.0 218.4 L467.0 218.9 L468.0 219.8 L469.0 220.0 L470.0 221.5 L471.0 221.6 L472.0 221.6 L473.0 220.8 L474.0 222.0 L475.0 221.7 L476.0 223.2 L477.0 223.3 L478.0 223.1 L479.0 222.5 L480.0 223.1 L481.0 223.3 L482.0 223.4 L483.0 223.4 L484.0 223.5 L485.0 223.6 L486.0 223.7 L487.0 223.8 L488.0 223.9 L489.0 224.0 L490.0 224.0 L491.0 224.1 L492.0 224.2 L493.0 224.3 L494.0 224.4 L495.0 224.4 L496.0 224.5 L497.0 224.5 L498.0 224.5 L499.0 224.6 L500.0 224.6 L501.0 224.6 L502.0 224.6 L503.0 224.7 L504.0 224.7 L505.0 224.7 L506.0 224.7 L507.0 224.8 L508.0 224.8 L509.0 224.8 L510.0 224.8 L511.0 224.9 L512.0 224.9" stroke="#e4582a" stroke-width="1.6" fill="none" stroke-linejoin="round"/>
<path d="M319.5 224.2 L320.0 223.7 L320.5 223.0 L321.0 221.7 L321.5 220.7 L322.0 219.5 L322.5 216.5 L323.0 212.6 L323.5 207.1 L324.0 202.4 L324.5 194.1 L325.0 187.8 L325.5 178.2 L326.0 170.5 L326.5 164.7 L327.0 155.8 L327.5 146.7 L328.0 137.9 L328.5 130.5 L329.0 122.7 L329.5 115.9 L330.0 108.5 L330.5 103.7 L331.0 98.3 L331.5 94.2 L332.0 90.9 L332.5 87.6 L333.0 87.4 L333.5 88.3 L334.0 90.9 L334.5 91.8 L335.0 92.5 L335.5 96.0 L336.0 96.2 L336.5 98.4 L337.0 98.9 L337.5 100.6 L338.0 102.9 L338.5 102.8 L339.0 105.0 L339.5 107.4 L340.0 108.7 L341.0 109.7 L342.0 111.7 L343.0 113.8 L344.0 115.9 L345.0 117.5 L346.0 119.7 L347.0 120.7 L348.0 124.7 L349.0 124.8 L350.0 126.3 L351.0 129.5 L352.0 129.3 L353.0 131.5 L354.0 132.4 L355.0 135.1 L356.0 136.2 L357.0 137.5 L358.0 137.3 L359.0 139.2 L360.0 140.8 L361.0 141.7 L362.0 142.8 L363.0 144.1 L364.0 144.7 L365.0 143.9 L366.0 145.8 L367.0 145.2 L368.0 147.4 L369.0 148.0 L370.0 148.0 L371.0 149.2 L372.0 149.4 L373.0 148.6 L374.0 149.4 L375.0 150.1 L376.0 151.0 L377.0 151.0 L378.0 151.4 L379.0 152.7 L380.0 152.8 L381.0 154.8 L382.0 153.7 L383.0 154.7 L384.0 154.4 L385.0 155.0 L386.0 156.1 L387.0 156.9 L388.0 155.1 L389.0 157.1 L390.0 156.5 L391.0 157.0 L392.0 157.3 L393.0 156.5 L394.0 156.2 L395.0 157.9 L396.0 157.3 L397.0 158.3 L398.0 158.1 L399.0 158.8 L400.0 159.6 L401.0 159.9 L402.0 160.1 L403.0 158.9 L404.0 160.1 L405.0 161.4 L406.0 160.6 L407.0 161.2 L408.0 163.1 L409.0 164.6 L410.0 165.3 L411.0 166.3 L412.0 166.6 L413.0 168.2 L414.0 169.0 L415.0 170.0 L416.0 170.4 L417.0 170.8 L418.0 172.1 L419.0 174.0 L420.0 175.0 L421.0 176.0 L422.0 177.5 L423.0 178.8 L424.0 180.6 L425.0 181.3 L426.0 181.0 L427.0 184.1 L428.0 184.5 L429.0 185.4 L430.0 186.1 L431.0 188.7 L432.0 189.8 L433.0 191.0 L434.0 191.7 L435.0 192.6 L436.0 192.5 L437.0 193.8 L438.0 194.8 L439.0 197.7 L440.0 198.7 L441.0 198.2 L442.0 198.8 L443.0 200.8 L444.0 201.5 L445.0 203.8 L446.0 203.9 L447.0 203.7 L448.0 204.9 L449.0 205.8 L450.0 206.5 L451.0 209.0 L452.0 210.3 L453.0 211.1 L454.0 211.2 L455.0 211.8 L456.0 212.1 L457.0 213.3 L458.0 214.1 L459.0 214.4 L460.0 215.7 L461.0 216.2 L462.0 217.9 L463.0 216.9 L464.0 218.7 L465.0 217.7 L466.0 218.9 L467.0 220.2 L468.0 221.2 L469.0 221.2 L470.0 220.6 L471.0 220.7 L472.0 222.3 L473.0 222.6 L474.0 221.8 L475.0 221.9 L476.0 222.6 L477.0 223.2 L478.0 222.5 L479.0 223.0 L480.0 223.2 L481.0 223.4 L482.0 223.5 L483.0 223.6 L484.0 223.7 L485.0 223.7 L486.0 223.8 L487.0 223.9 L488.0 224.0 L489.0 224.0 L490.0 224.1 L491.0 224.2 L492.0 224.3 L493.0 224.3 L494.0 224.4 L495.0 224.5 L496.0 224.5 L497.0 224.6 L498.0 224.6 L499.0 224.6 L500.0 224.6 L501.0 224.6 L502.0 224.7 L503.0 224.7 L504.0 224.7 L505.0 224.7 L506.0 224.8 L507.0 224.8 L508.0 224.8 L509.0 224.8 L510.0 224.8 L511.0 224.9 L512.0 224.9" stroke="#f08a2c" stroke-width="1.6" fill="none" stroke-linejoin="round"/>
<path d="M319.5 224.7 L320.0 224.0 L320.5 223.4 L321.0 223.6 L321.5 221.7 L322.0 220.1 L322.5 216.9 L323.0 215.1 L323.5 210.9 L324.0 206.7 L324.5 202.2 L325.0 196.3 L325.5 187.6 L326.0 181.0 L326.5 174.7 L327.0 168.2 L327.5 159.9 L328.0 151.9 L328.5 144.6 L329.0 137.1 L329.5 128.7 L330.0 121.8 L330.5 117.4 L331.0 112.0 L331.5 107.1 L332.0 103.4 L332.5 100.5 L333.0 98.2 L333.5 97.6 L334.0 98.5 L334.5 99.9 L335.0 101.0 L335.5 103.6 L336.0 103.9 L336.5 105.7 L337.0 107.6 L337.5 109.5 L338.0 109.1 L338.5 111.8 L339.0 111.9 L339.5 114.4 L340.0 115.7 L341.0 116.9 L342.0 119.7 L343.0 120.1 L344.0 122.8 L345.0 125.3 L346.0 127.2 L347.0 128.8 L348.0 130.3 L349.0 131.5 L350.0 134.8 L351.0 135.8 L352.0 137.7 L353.0 137.5 L354.0 140.8 L355.0 142.3 L356.0 143.5 L357.0 144.0 L358.0 144.1 L359.0 145.2 L360.0 146.6 L361.0 147.1 L362.0 148.2 L363.0 150.4 L364.0 151.5 L365.0 150.7 L366.0 151.9 L367.0 154.3 L368.0 153.7 L369.0 155.1 L370.0 155.7 L371.0 156.3 L372.0 157.3 L373.0 158.2 L374.0 158.2 L375.0 158.6 L376.0 157.8 L377.0 160.2 L378.0 158.9 L379.0 161.1 L380.0 161.3 L381.0 160.7 L382.0 161.2 L383.0 162.4 L384.0 163.7 L385.0 163.1 L386.0 163.7 L387.0 162.8 L388.0 164.7 L389.0 164.5 L390.0 163.6 L391.0 165.7 L392.0 165.1 L393.0 164.4 L394.0 164.8 L395.0 166.6 L396.0 166.8 L397.0 167.0 L398.0 165.4 L399.0 167.2 L400.0 166.5 L401.0 166.4 L402.0 168.0 L403.0 168.5 L404.0 167.3 L405.0 168.4 L406.0 169.9 L407.0 169.5 L408.0 171.1 L409.0 171.8 L410.0 173.1 L411.0 172.2 L412.0 172.6 L413.0 174.0 L414.0 174.3 L415.0 177.2 L416.0 177.7 L417.0 178.1 L418.0 178.0 L419.0 178.9 L420.0 181.1 L421.0 182.4 L422.0 183.0 L423.0 183.9 L424.0 184.0 L425.0 186.7 L426.0 186.4 L427.0 187.6 L428.0 188.4 L429.0 189.6 L430.0 191.0 L431.0 192.7 L432.0 193.8 L433.0 194.7 L434.0 194.7 L435.0 197.2 L436.0 197.8 L437.0 197.5 L438.0 199.6 L439.0 200.9 L440.0 201.9 L441.0 201.6 L442.0 203.0 L443.0 202.4 L444.0 203.5 L445.0 204.2 L446.0 206.6 L447.0 207.8 L448.0 208.6 L449.0 208.6 L450.0 209.0 L451.0 210.4 L452.0 211.7 L453.0 212.1 L454.0 212.4 L455.0 213.1 L456.0 213.7 L457.0 214.2 L458.0 215.2 L459.0 216.9 L460.0 215.9 L461.0 217.6 L462.0 217.6 L463.0 218.5 L464.0 218.3 L465.0 219.9 L466.0 220.3 L467.0 220.8 L468.0 221.5 L469.0 220.3 L470.0 221.2 L471.0 221.9 L472.0 222.0 L473.0 220.9 L474.0 222.2 L475.0 223.0 L476.0 221.9 L477.0 222.5 L478.0 223.0 L479.0 223.2 L480.0 223.3 L481.0 223.5 L482.0 223.6 L483.0 223.7 L484.0 223.8 L485.0 223.8 L486.0 223.9 L487.0 224.0 L488.0 224.1 L489.0 224.1 L490.0 224.2 L491.0 224.3 L492.0 224.3 L493.0 224.4 L494.0 224.4 L495.0 224.5 L496.0 224.5 L497.0 224.6 L498.0 224.6 L499.0 224.6 L500.0 224.7 L501.0 224.7 L502.0 224.7 L503.0 224.7 L504.0 224.7 L505.0 224.8 L506.0 224.8 L507.0 224.8 L508.0 224.8 L509.0 224.8 L510.0 224.8 L511.0 224.9 L512.0 224.9" stroke="#f4b230" stroke-width="1.6" fill="none" stroke-linejoin="round"/>
<path d="M319.5 224.9 L320.0 224.7 L320.5 223.9 L321.0 223.2 L321.5 221.1 L322.0 221.5 L322.5 219.1 L323.0 216.3 L323.5 213.7 L324.0 210.1 L324.5 207.4 L325.0 202.2 L325.5 197.3 L326.0 190.6 L326.5 182.4 L327.0 176.7 L327.5 169.4 L328.0 164.0 L328.5 155.9 L329.0 149.6 L329.5 142.8 L330.0 134.7 L330.5 129.5 L331.0 124.5 L331.5 119.5 L332.0 115.0 L332.5 111.8 L333.0 108.2 L333.5 107.5 L334.0 105.1 L334.5 106.6 L335.0 109.0 L335.5 110.2 L336.0 112.3 L336.5 113.7 L337.0 115.1 L337.5 115.8 L338.0 116.8 L338.5 118.9 L339.0 120.5 L339.5 121.0 L340.0 121.4 L341.0 124.8 L342.0 126.5 L343.0 128.6 L344.0 129.0 L345.0 131.2 L346.0 134.1 L347.0 135.9 L348.0 137.2 L349.0 138.7 L350.0 140.1 L351.0 142.7 L352.0 143.9 L353.0 144.2 L354.0 146.2 L355.0 147.7 L356.0 148.9 L357.0 148.6 L358.0 151.2 L359.0 151.8 L360.0 153.3 L361.0 154.2 L362.0 154.3 L363.0 155.0 L364.0 157.2 L365.0 158.5 L366.0 158.2 L367.0 160.2 L368.0 161.5 L369.0 160.4 L370.0 162.1 L371.0 161.8 L372.0 163.3 L373.0 162.8 L374.0 164.3 L375.0 165.6 L376.0 166.5 L377.0 165.9 L378.0 166.3 L379.0 166.2 L380.0 168.6 L381.0 167.9 L382.0 169.0 L383.0 169.1 L384.0 170.3 L385.0 170.4 L386.0 170.2 L387.0 169.7 L388.0 171.8 L389.0 171.2 L390.0 170.8 L391.0 170.7 L392.0 172.6 L393.0 173.0 L394.0 171.5 L395.0 171.7 L396.0 173.0 L397.0 174.2 L398.0 172.6 L399.0 174.1 L400.0 173.3 L401.0 174.2 L402.0 174.1 L403.0 175.9 L404.0 174.8 L405.0 176.4 L406.0 176.5 L407.0 176.1 L408.0 176.7 L409.0 178.7 L410.0 179.2 L411.0 179.4 L412.0 179.8 L413.0 180.8 L414.0 182.2 L415.0 182.7 L416.0 182.5 L417.0 182.9 L418.0 185.6 L419.0 185.3 L420.0 185.7 L421.0 188.1 L422.0 187.2 L423.0 189.7 L424.0 189.5 L425.0 190.6 L426.0 191.3 L427.0 192.9 L428.0 193.5 L429.0 194.1 L430.0 195.4 L431.0 195.8 L432.0 197.2 L433.0 198.1 L434.0 199.9 L435.0 199.4 L436.0 200.5 L437.0 201.8 L438.0 201.5 L439.0 202.2 L440.0 203.8 L441.0 205.2 L442.0 205.3 L443.0 206.9 L444.0 207.6 L445.0 207.7 L446.0 209.2 L447.0 209.1 L448.0 209.7 L449.0 211.5 L450.0 210.9 L451.0 212.8 L452.0 212.1 L453.0 212.7 L454.0 214.0 L455.0 215.7 L456.0 215.3 L457.0 216.3 L458.0 215.6 L459.0 217.8 L460.0 216.7 L461.0 216.9 L462.0 218.0 L463.0 218.3 L464.0 220.1 L465.0 218.8 L466.0 220.3 L467.0 219.6 L468.0 220.1 L469.0 222.2 L470.0 221.1 L471.0 220.9 L472.0 223.0 L473.0 222.6 L474.0 221.9 L475.0 223.4 L476.0 222.0 L477.0 223.0 L478.0 223.2 L479.0 223.3 L480.0 223.5 L481.0 223.6 L482.0 223.7 L483.0 223.8 L484.0 223.9 L485.0 224.0 L486.0 224.0 L487.0 224.1 L488.0 224.1 L489.0 224.2 L490.0 224.3 L491.0 224.3 L492.0 224.4 L493.0 224.4 L494.0 224.5 L495.0 224.5 L496.0 224.6 L497.0 224.6 L498.0 224.6 L499.0 224.7 L500.0 224.7 L501.0 224.7 L502.0 224.7 L503.0 224.7 L504.0 224.7 L505.0 224.8 L506.0 224.8 L507.0 224.8 L508.0 224.8 L509.0 224.8 L510.0 224.9 L511.0 224.9 L512.0 224.9" stroke="#ecd43a" stroke-width="1.6" fill="none" stroke-linejoin="round"/>
<path d="M319.5 224.9 L320.0 224.9 L320.5 224.9 L321.0 224.2 L321.5 223.3 L322.0 222.7 L322.5 220.3 L323.0 219.3 L323.5 216.8 L324.0 213.9 L324.5 211.9 L325.0 207.8 L325.5 203.2 L326.0 199.3 L326.5 194.1 L327.0 188.1 L327.5 182.2 L328.0 175.4 L328.5 169.9 L329.0 163.3 L329.5 157.8 L330.0 150.4 L330.5 144.3 L331.0 138.7 L331.5 134.0 L332.0 129.5 L332.5 125.0 L333.0 122.4 L333.5 119.6 L334.0 117.3 L334.5 115.5 L335.0 115.6 L335.5 117.4 L336.0 118.9 L336.5 119.9 L337.0 122.4 L337.5 122.7 L338.0 124.6 L338.5 126.1 L339.0 126.6 L339.5 128.4 L340.0 128.5 L341.0 131.2 L342.0 133.6 L343.0 135.0 L344.0 137.2 L345.0 139.2 L346.0 140.1 L347.0 142.7 L348.0 143.5 L349.0 146.0 L350.0 147.2 L351.0 148.1 L352.0 149.9 L353.0 151.1 L354.0 152.8 L355.0 154.5 L356.0 155.6 L357.0 156.6 L358.0 157.1 L359.0 158.5 L360.0 159.4 L361.0 160.0 L362.0 162.0 L363.0 163.0 L364.0 163.4 L365.0 165.1 L366.0 166.1 L367.0 166.6 L368.0 167.8 L369.0 168.4 L370.0 169.5 L371.0 169.7 L372.0 170.3 L373.0 171.4 L374.0 171.4 L375.0 172.2 L376.0 173.3 L377.0 172.8 L378.0 174.3 L379.0 175.0 L380.0 175.7 L381.0 175.5 L382.0 175.8 L383.0 176.5 L384.0 177.4 L385.0 177.9 L386.0 178.6 L387.0 178.1 L388.0 178.6 L389.0 179.2 L390.0 179.1 L391.0 179.6 L392.0 179.3 L393.0 179.9 L394.0 180.8 L395.0 180.2 L396.0 181.6 L397.0 181.3 L398.0 181.8 L399.0 182.3 L400.0 182.9 L401.0 182.2 L402.0 183.6 L403.0 183.2 L404.0 183.0 L405.0 184.4 L406.0 184.6 L407.0 184.5 L408.0 185.2 L409.0 185.5 L410.0 185.7 L411.0 187.1 L412.0 187.4 L413.0 188.0 L414.0 189.0 L415.0 188.5 L416.0 189.4 L417.0 190.1 L418.0 191.8 L419.0 191.3 L420.0 192.2 L421.0 193.2 L422.0 193.5 L423.0 194.6 L424.0 195.7 L425.0 196.6 L426.0 197.2 L427.0 198.2 L428.0 198.5 L429.0 198.7 L430.0 199.5 L431.0 200.1 L432.0 201.0 L433.0 202.4 L434.0 202.7 L435.0 203.6 L436.0 203.8 L437.0 204.9 L438.0 205.9 L439.0 206.1 L440.0 206.3 L441.0 208.0 L442.0 207.8 L443.0 209.6 L444.0 209.9 L445.0 210.5 L446.0 210.5 L447.0 210.8 L448.0 211.7 L449.0 212.9 L450.0 212.8 L451.0 214.1 L452.0 214.8 L453.0 214.6 L454.0 215.5 L455.0 215.9 L456.0 216.5 L457.0 216.6 L458.0 217.8 L459.0 217.7 L460.0 218.3 L461.0 218.5 L462.0 219.5 L463.0 219.5 L464.0 220.1 L465.0 220.9 L466.0 221.3 L467.0 221.0 L468.0 222.1 L469.0 221.3 L470.0 222.6 L471.0 222.9 L472.0 223.0 L473.0 222.1 L474.0 223.0 L475.0 223.0 L476.0 223.1 L477.0 223.3 L478.0 223.5 L479.0 223.6 L480.0 223.7 L481.0 223.8 L482.0 223.9 L483.0 224.0 L484.0 224.0 L485.0 224.1 L486.0 224.1 L487.0 224.2 L488.0 224.2 L489.0 224.3 L490.0 224.4 L491.0 224.4 L492.0 224.5 L493.0 224.5 L494.0 224.5 L495.0 224.6 L496.0 224.6 L497.0 224.6 L498.0 224.7 L499.0 224.7 L500.0 224.7 L501.0 224.7 L502.0 224.7 L503.0 224.8 L504.0 224.8 L505.0 224.8 L506.0 224.8 L507.0 224.8 L508.0 224.8 L509.0 224.8 L510.0 224.9 L511.0 224.9 L512.0 224.9" stroke="#c0dc40" stroke-width="1.6" fill="none" stroke-linejoin="round"/>
<path d="M319.5 224.9 L320.0 224.9 L320.5 224.9 L321.0 224.9 L321.5 224.9 L322.0 224.4 L322.5 223.4 L323.0 222.8 L323.5 221.4 L324.0 219.3 L324.5 216.3 L325.0 214.1 L325.5 211.4 L326.0 208.1 L326.5 205.6 L327.0 201.5 L327.5 197.8 L328.0 192.6 L328.5 188.0 L329.0 183.3 L329.5 179.7 L330.0 173.8 L330.5 169.1 L331.0 163.8 L331.5 158.6 L332.0 154.0 L332.5 150.2 L333.0 146.0 L333.5 142.4 L334.0 140.8 L334.5 139.1 L335.0 137.7 L335.5 136.3 L336.0 135.1 L336.5 136.4 L337.0 137.8 L337.5 138.8 L338.0 140.3 L338.5 142.0 L339.0 143.5 L339.5 144.6 L340.0 144.6 L341.0 147.1 L342.0 148.8 L343.0 150.4 L344.0 152.7 L345.0 154.0 L346.0 155.5 L347.0 156.3 L348.0 158.3 L349.0 159.8 L350.0 160.4 L351.0 162.5 L352.0 163.2 L353.0 164.5 L354.0 166.3 L355.0 166.8 L356.0 167.8 L357.0 168.4 L358.0 169.9 L359.0 170.4 L360.0 171.6 L361.0 173.1 L362.0 173.2 L363.0 175.2 L364.0 175.2 L365.0 177.0 L366.0 178.2 L367.0 178.8 L368.0 179.0 L369.0 179.7 L370.0 181.9 L371.0 182.2 L372.0 182.9 L373.0 183.0 L374.0 184.4 L375.0 184.6 L376.0 185.3 L377.0 185.3 L378.0 186.6 L379.0 186.2 L380.0 187.7 L381.0 188.3 L382.0 188.3 L383.0 189.1 L384.0 190.2 L385.0 189.9 L386.0 190.9 L387.0 190.3 L388.0 190.8 L389.0 191.0 L390.0 191.5 L391.0 192.2 L392.0 192.5 L393.0 192.8 L394.0 192.4 L395.0 193.8 L396.0 193.1 L397.0 194.5 L398.0 194.6 L399.0 194.8 L400.0 194.3 L401.0 195.1 L402.0 195.6 L403.0 195.2 L404.0 196.4 L405.0 196.4 L406.0 196.6 L407.0 196.6 L408.0 196.9 L409.0 197.4 L410.0 198.2 L411.0 198.5 L412.0 199.1 L413.0 198.6 L414.0 199.2 L415.0 199.6 L416.0 200.8 L417.0 200.9 L418.0 201.0 L419.0 201.7 L420.0 202.8 L421.0 202.8 L422.0 202.7 L423.0 204.1 L424.0 204.6 L425.0 205.0 L426.0 204.9 L427.0 205.2 L428.0 206.6 L429.0 207.1 L430.0 207.5 L431.0 207.9 L432.0 208.2 L433.0 209.2 L434.0 209.5 L435.0 210.2 L436.0 209.6 L437.0 210.5 L438.0 211.8 L439.0 211.1 L440.0 212.8 L441.0 212.9 L442.0 212.6 L443.0 213.3 L444.0 213.8 L445.0 214.6 L446.0 215.4 L447.0 215.2 L448.0 216.4 L449.0 216.6 L450.0 216.8 L451.0 217.7 L452.0 217.7 L453.0 217.6 L454.0 218.1 L455.0 218.7 L456.0 218.9 L457.0 219.4 L458.0 220.2 L459.0 219.9 L460.0 220.5 L461.0 220.3 L462.0 220.4 L463.0 221.3 L464.0 221.4 L465.0 221.5 L466.0 222.2 L467.0 222.6 L468.0 222.2 L469.0 222.1 L470.0 222.4 L471.0 223.0 L472.0 223.1 L473.0 223.2 L474.0 223.3 L475.0 223.5 L476.0 223.6 L477.0 223.7 L478.0 223.8 L479.0 224.0 L480.0 224.0 L481.0 224.1 L482.0 224.2 L483.0 224.2 L484.0 224.3 L485.0 224.3 L486.0 224.3 L487.0 224.4 L488.0 224.4 L489.0 224.5 L490.0 224.5 L491.0 224.5 L492.0 224.6 L493.0 224.6 L494.0 224.7 L495.0 224.7 L496.0 224.7 L497.0 224.7 L498.0 224.7 L499.0 224.7 L500.0 224.8 L501.0 224.8 L502.0 224.8 L503.0 224.8 L504.0 224.8 L505.0 224.8 L506.0 224.8 L507.0 224.8 L508.0 224.9 L509.0 224.9 L510.0 224.9 L511.0 224.9 L512.0 224.9" stroke="#86d04a" stroke-width="1.6" fill="none" stroke-linejoin="round"/>
<path d="M319.5 224.9 L320.0 224.9 L320.5 224.9 L321.0 224.9 L321.5 224.9 L322.0 224.9 L322.5 224.9 L323.0 224.0 L323.5 223.1 L324.0 221.9 L324.5 219.8 L325.0 218.1 L325.5 216.3 L326.0 214.6 L326.5 212.2 L327.0 209.2 L327.5 207.3 L328.0 204.3 L328.5 200.4 L329.0 197.0 L329.5 193.7 L330.0 190.7 L330.5 186.9 L331.0 183.0 L331.5 179.0 L332.0 175.0 L332.5 171.1 L333.0 168.4 L333.5 165.6 L334.0 162.6 L334.5 160.2 L335.0 158.8 L335.5 157.4 L336.0 157.4 L336.5 155.7 L337.0 156.5 L337.5 158.0 L338.0 158.9 L338.5 159.2 L339.0 161.4 L339.5 161.8 L340.0 163.2 L341.0 163.8 L342.0 165.0 L343.0 166.9 L344.0 168.8 L345.0 169.6 L346.0 171.0 L347.0 171.9 L348.0 173.4 L349.0 174.3 L350.0 175.2 L351.0 176.8 L352.0 178.1 L353.0 178.2 L354.0 179.9 L355.0 180.1 L356.0 181.2 L357.0 181.5 L358.0 183.1 L359.0 182.8 L360.0 184.4 L361.0 185.6 L362.0 186.1 L363.0 186.7 L364.0 188.1 L365.0 188.3 L366.0 189.1 L367.0 189.6 L368.0 190.8 L369.0 191.7 L370.0 192.6 L371.0 192.7 L372.0 193.3 L373.0 194.3 L374.0 195.2 L375.0 194.9 L376.0 195.9 L377.0 196.6 L378.0 197.2 L379.0 196.8 L380.0 197.3 L381.0 198.0 L382.0 198.7 L383.0 199.0 L384.0 199.9 L385.0 199.4 L386.0 200.5 L387.0 200.4 L388.0 200.5 L389.0 200.7 L390.0 201.5 L391.0 202.0 L392.0 201.9 L393.0 202.8 L394.0 202.1 L395.0 203.0 L396.0 202.6 L397.0 203.7 L398.0 203.8 L399.0 204.2 L400.0 204.3 L401.0 204.9 L402.0 205.3 L403.0 204.6 L404.0 205.5 L405.0 205.8 L406.0 205.9 L407.0 206.0 L408.0 206.3 L409.0 206.2 L410.0 206.5 L411.0 207.1 L412.0 206.6 L413.0 206.9 L414.0 208.2 L415.0 207.5 L416.0 207.8 L417.0 208.2 L418.0 209.4 L419.0 208.8 L420.0 209.4 L421.0 210.6 L422.0 210.9 L423.0 210.0 L424.0 210.7 L425.0 211.6 L426.0 212.1 L427.0 212.3 L428.0 212.5 L429.0 212.2 L430.0 213.0 L431.0 213.6 L432.0 213.0 L433.0 213.5 L434.0 214.6 L435.0 214.0 L436.0 214.8 L437.0 214.9 L438.0 215.4 L439.0 215.4 L440.0 215.9 L441.0 216.2 L442.0 217.4 L443.0 217.1 L444.0 217.6 L445.0 217.6 L446.0 218.3 L447.0 218.0 L448.0 218.7 L449.0 219.3 L450.0 219.7 L451.0 220.1 L452.0 219.9 L453.0 220.8 L454.0 220.5 L455.0 221.2 L456.0 221.0 L457.0 221.2 L458.0 221.3 L459.0 221.1 L460.0 222.4 L461.0 221.5 L462.0 222.2 L463.0 222.3 L464.0 222.4 L465.0 222.3 L466.0 223.0 L467.0 223.2 L468.0 223.3 L469.0 223.4 L470.0 223.4 L471.0 223.5 L472.0 223.6 L473.0 223.7 L474.0 223.8 L475.0 223.9 L476.0 224.0 L477.0 224.1 L478.0 224.2 L479.0 224.3 L480.0 224.3 L481.0 224.4 L482.0 224.4 L483.0 224.4 L484.0 224.5 L485.0 224.5 L486.0 224.5 L487.0 224.5 L488.0 224.6 L489.0 224.6 L490.0 224.6 L491.0 224.7 L492.0 224.7 L493.0 224.7 L494.0 224.7 L495.0 224.8 L496.0 224.8 L497.0 224.8 L498.0 224.8 L499.0 224.8 L500.0 224.8 L501.0 224.8 L502.0 224.8 L503.0 224.8 L504.0 224.8 L505.0 224.8 L506.0 224.9 L507.0 224.9 L508.0 224.9 L509.0 224.9 L510.0 224.9 L511.0 224.9 L512.0 224.9" stroke="#3ec24e" stroke-width="1.6" fill="none" stroke-linejoin="round"/>
<path d="M319.5 224.9 L320.0 224.9 L320.5 224.9 L321.0 224.9 L321.5 224.9 L322.0 224.9 L322.5 224.9 L323.0 224.3 L323.5 223.6 L324.0 223.0 L324.5 221.8 L325.0 220.4 L325.5 218.3 L326.0 218.2 L326.5 215.6 L327.0 213.8 L327.5 212.7 L328.0 210.1 L328.5 207.6 L329.0 204.9 L329.5 203.2 L330.0 199.9 L330.5 198.1 L331.0 195.3 L331.5 192.5 L332.0 189.7 L332.5 186.9 L333.0 185.0 L333.5 183.0 L334.0 180.5 L334.5 179.7 L335.0 178.1 L335.5 177.5 L336.0 177.1 L336.5 175.7 L337.0 177.1 L337.5 177.6 L338.0 178.3 L338.5 178.6 L339.0 180.1 L339.5 180.5 L340.0 181.2 L341.0 182.0 L342.0 182.6 L343.0 184.3 L344.0 184.5 L345.0 186.1 L346.0 186.9 L347.0 188.0 L348.0 188.5 L349.0 188.7 L350.0 190.0 L351.0 190.6 L352.0 192.0 L353.0 192.6 L354.0 193.1 L355.0 193.3 L356.0 193.8 L357.0 194.1 L358.0 195.7 L359.0 195.3 L360.0 195.7 L361.0 196.7 L362.0 197.9 L363.0 198.1 L364.0 199.1 L365.0 199.4 L366.0 199.0 L367.0 200.0 L368.0 200.5 L369.0 200.9 L370.0 201.3 L371.0 202.3 L372.0 202.8 L373.0 203.2 L374.0 203.4 L375.0 203.9 L376.0 204.1 L377.0 205.1 L378.0 204.8 L379.0 205.4 L380.0 205.3 L381.0 206.5 L382.0 206.8 L383.0 207.3 L384.0 206.7 L385.0 206.8 L386.0 207.4 L387.0 207.9 L388.0 207.5 L389.0 207.8 L390.0 208.3 L391.0 208.9 L392.0 209.0 L393.0 209.0 L394.0 209.4 L395.0 209.4 L396.0 209.3 L397.0 209.1 L398.0 210.5 L399.0 210.0 L400.0 210.9 L401.0 211.0 L402.0 210.2 L403.0 210.7 L404.0 210.4 L405.0 211.2 L406.0 212.0 L407.0 211.7 L408.0 211.6 L409.0 211.3 L410.0 211.4 L411.0 212.2 L412.0 212.5 L413.0 213.1 L414.0 212.5 L415.0 213.3 L416.0 213.6 L417.0 214.1 L418.0 214.3 L419.0 213.6 L420.0 214.6 L421.0 213.7 L422.0 215.1 L423.0 214.3 L424.0 215.5 L425.0 215.9 L426.0 215.2 L427.0 216.0 L428.0 215.6 L429.0 216.6 L430.0 217.0 L431.0 216.3 L432.0 216.6 L433.0 216.6 L434.0 217.0 L435.0 218.1 L436.0 217.7 L437.0 217.8 L438.0 218.4 L439.0 218.0 L440.0 219.1 L441.0 218.4 L442.0 219.0 L443.0 220.2 L444.0 220.4 L445.0 219.7 L446.0 219.7 L447.0 220.9 L448.0 220.8 L449.0 220.5 L450.0 221.4 L451.0 220.7 L452.0 221.4 L453.0 222.2 L454.0 221.9 L455.0 221.9 L456.0 222.2 L457.0 222.0 L458.0 222.9 L459.0 222.2 L460.0 222.9 L461.0 222.6 L462.0 223.0 L463.0 223.1 L464.0 223.3 L465.0 223.4 L466.0 223.5 L467.0 223.7 L468.0 223.7 L469.0 223.8 L470.0 223.9 L471.0 223.9 L472.0 224.0 L473.0 224.1 L474.0 224.1 L475.0 224.2 L476.0 224.3 L477.0 224.3 L478.0 224.4 L479.0 224.4 L480.0 224.5 L481.0 224.5 L482.0 224.5 L483.0 224.6 L484.0 224.6 L485.0 224.6 L486.0 224.6 L487.0 224.6 L488.0 224.7 L489.0 224.7 L490.0 224.7 L491.0 224.7 L492.0 224.7 L493.0 224.8 L494.0 224.8 L495.0 224.8 L496.0 224.8 L497.0 224.8 L498.0 224.8 L499.0 224.8 L500.0 224.8 L501.0 224.8 L502.0 224.8 L503.0 224.8 L504.0 224.9 L505.0 224.9 L506.0 224.9 L507.0 224.9 L508.0 224.9 L509.0 224.9 L510.0 224.9 L511.0 224.9 L512.0 224.9" stroke="#22b47a" stroke-width="1.6" fill="none" stroke-linejoin="round"/>
<path d="M319.5 224.9 L320.0 224.9 L320.5 224.9 L321.0 224.9 L321.5 224.9 L322.0 224.9 L322.5 224.9 L323.0 224.5 L323.5 224.1 L324.0 223.7 L324.5 222.7 L325.0 222.2 L325.5 221.4 L326.0 220.0 L326.5 218.7 L327.0 217.8 L327.5 216.9 L328.0 216.2 L328.5 215.0 L329.0 212.3 L329.5 211.1 L330.0 209.5 L330.5 208.4 L331.0 206.7 L331.5 204.9 L332.0 203.2 L332.5 201.5 L333.0 200.5 L333.5 199.0 L334.0 197.3 L334.5 196.3 L335.0 196.1 L335.5 196.1 L336.0 195.4 L336.5 194.4 L337.0 195.5 L337.5 195.5 L338.0 196.1 L338.5 196.1 L339.0 196.6 L339.5 197.8 L340.0 198.6 L341.0 198.8 L342.0 199.2 L343.0 199.6 L344.0 199.9 L345.0 200.4 L346.0 202.1 L347.0 201.6 L348.0 202.1 L349.0 202.5 L350.0 203.4 L351.0 204.3 L352.0 204.0 L353.0 204.4 L354.0 204.9 L355.0 205.0 L356.0 206.1 L357.0 206.7 L358.0 206.5 L359.0 206.5 L360.0 207.6 L361.0 207.2 L362.0 207.3 L363.0 208.6 L364.0 208.5 L365.0 208.7 L366.0 209.3 L367.0 210.0 L368.0 210.3 L369.0 210.0 L370.0 210.3 L371.0 211.1 L372.0 211.9 L373.0 211.2 L374.0 211.5 L375.0 212.4 L376.0 212.1 L377.0 211.9 L378.0 212.1 L379.0 212.8 L380.0 213.1 L381.0 213.2 L382.0 213.9 L383.0 214.1 L384.0 214.3 L385.0 213.8 L386.0 214.4 L387.0 214.3 L388.0 214.6 L389.0 214.6 L390.0 215.2 L391.0 215.4 L392.0 214.3 L393.0 215.2 L394.0 215.7 L395.0 215.1 L396.0 215.0 L397.0 216.0 L398.0 215.5 L399.0 216.0 L400.0 215.9 L401.0 216.6 L402.0 216.7 L403.0 215.6 L404.0 215.8 L405.0 216.5 L406.0 216.5 L407.0 217.0 L408.0 216.4 L409.0 217.0 L410.0 216.4 L411.0 216.7 L412.0 216.8 L413.0 216.7 L414.0 217.7 L415.0 218.2 L416.0 218.1 L417.0 218.2 L418.0 218.5 L419.0 218.7 L420.0 218.2 L421.0 217.9 L422.0 218.6 L423.0 218.1 L424.0 218.3 L425.0 219.5 L426.0 219.0 L427.0 219.4 L428.0 219.9 L429.0 218.9 L430.0 220.0 L431.0 219.7 L432.0 219.8 L433.0 219.5 L434.0 220.0 L435.0 220.5 L436.0 220.6 L437.0 221.1 L438.0 220.2 L439.0 220.4 L440.0 221.5 L441.0 221.9 L442.0 221.8 L443.0 221.8 L444.0 221.2 L445.0 221.3 L446.0 221.5 L447.0 222.7 L448.0 221.8 L449.0 222.1 L450.0 222.3 L451.0 222.0 L452.0 223.3 L453.0 223.3 L454.0 223.0 L455.0 223.1 L456.0 223.2 L457.0 223.3 L458.0 223.4 L459.0 223.5 L460.0 223.5 L461.0 223.6 L462.0 223.7 L463.0 223.8 L464.0 223.9 L465.0 224.0 L466.0 224.1 L467.0 224.2 L468.0 224.2 L469.0 224.2 L470.0 224.3 L471.0 224.3 L472.0 224.3 L473.0 224.4 L474.0 224.4 L475.0 224.5 L476.0 224.5 L477.0 224.5 L478.0 224.6 L479.0 224.6 L480.0 224.7 L481.0 224.7 L482.0 224.7 L483.0 224.7 L484.0 224.7 L485.0 224.7 L486.0 224.7 L487.0 224.7 L488.0 224.8 L489.0 224.8 L490.0 224.8 L491.0 224.8 L492.0 224.8 L493.0 224.8 L494.0 224.8 L495.0 224.8 L496.0 224.8 L497.0 224.8 L498.0 224.9 L499.0 224.9 L500.0 224.9 L501.0 224.9 L502.0 224.9 L503.0 224.9 L504.0 224.9 L505.0 224.9 L506.0 224.9 L507.0 224.9 L508.0 224.9 L509.0 224.9 L510.0 224.9 L511.0 224.9 L512.0 224.9" stroke="#22b8b0" stroke-width="1.6" fill="none" stroke-linejoin="round"/>
<path d="M319.5 224.9 L320.0 224.9 L320.5 224.9 L321.0 224.9 L321.5 224.9 L322.0 224.9 L322.5 224.9 L323.0 224.6 L323.5 224.4 L324.0 224.1 L324.5 223.6 L325.0 223.1 L325.5 222.2 L326.0 221.5 L326.5 221.1 L327.0 220.9 L327.5 219.8 L328.0 218.9 L328.5 218.8 L329.0 217.5 L329.5 216.7 L330.0 215.9 L330.5 214.5 L331.0 213.4 L331.5 212.3 L332.0 211.2 L332.5 210.1 L333.0 209.3 L333.5 209.0 L334.0 208.1 L334.5 207.5 L335.0 206.5 L335.5 207.1 L336.0 205.9 L336.5 206.3 L337.0 206.8 L337.5 205.9 L338.0 207.1 L338.5 206.4 L339.0 206.8 L339.5 207.0 L340.0 208.3 L341.0 208.2 L342.0 209.1 L343.0 208.4 L344.0 208.9 L345.0 209.5 L346.0 210.1 L347.0 210.6 L348.0 210.3 L349.0 211.1 L350.0 211.2 L351.0 212.1 L352.0 212.3 L353.0 212.8 L354.0 212.1 L355.0 212.6 L356.0 213.3 L357.0 212.6 L358.0 213.6 L359.0 213.6 L360.0 214.1 L361.0 214.2 L362.0 213.7 L363.0 214.6 L364.0 215.0 L365.0 214.8 L366.0 215.3 L367.0 214.7 L368.0 216.0 L369.0 215.1 L370.0 216.5 L371.0 215.6 L372.0 216.1 L373.0 216.9 L374.0 216.6 L375.0 217.0 L376.0 217.2 L377.0 217.4 L378.0 217.3 L379.0 216.6 L380.0 216.7 L381.0 217.0 L382.0 218.2 L383.0 218.1 L384.0 217.4 L385.0 218.6 L386.0 217.8 L387.0 218.5 L388.0 217.7 L389.0 219.0 L390.0 218.0 L391.0 218.7 L392.0 219.1 L393.0 219.3 L394.0 218.3 L395.0 218.8 L396.0 219.3 L397.0 219.1 L398.0 218.5 L399.0 219.5 L400.0 219.1 L401.0 219.7 L402.0 219.8 L403.0 219.0 L404.0 219.2 L405.0 219.9 L406.0 220.2 L407.0 220.2 L408.0 219.6 L409.0 219.8 L410.0 220.2 L411.0 220.3 L412.0 219.9 L413.0 219.8 L414.0 219.7 L415.0 220.1 L416.0 220.7 L417.0 221.0 L418.0 220.2 L419.0 220.7 L420.0 220.4 L421.0 221.4 L422.0 220.5 L423.0 221.2 L424.0 220.6 L425.0 220.7 L426.0 221.2 L427.0 222.0 L428.0 220.9 L429.0 221.5 L430.0 221.1 L431.0 222.0 L432.0 222.2 L433.0 221.4 L434.0 222.1 L435.0 222.5 L436.0 222.3 L437.0 222.1 L438.0 223.0 L439.0 222.4 L440.0 222.6 L441.0 222.6 L442.0 223.2 L443.0 222.5 L444.0 222.5 L445.0 223.0 L446.0 223.0 L447.0 223.1 L448.0 223.2 L449.0 223.3 L450.0 223.4 L451.0 223.4 L452.0 223.5 L453.0 223.6 L454.0 223.7 L455.0 223.8 L456.0 223.8 L457.0 223.9 L458.0 223.9 L459.0 224.0 L460.0 224.0 L461.0 224.1 L462.0 224.1 L463.0 224.2 L464.0 224.3 L465.0 224.3 L466.0 224.4 L467.0 224.4 L468.0 224.4 L469.0 224.5 L470.0 224.5 L471.0 224.5 L472.0 224.5 L473.0 224.6 L474.0 224.6 L475.0 224.6 L476.0 224.6 L477.0 224.7 L478.0 224.7 L479.0 224.7 L480.0 224.7 L481.0 224.8 L482.0 224.8 L483.0 224.8 L484.0 224.8 L485.0 224.8 L486.0 224.8 L487.0 224.8 L488.0 224.8 L489.0 224.8 L490.0 224.8 L491.0 224.8 L492.0 224.8 L493.0 224.8 L494.0 224.9 L495.0 224.9 L496.0 224.9 L497.0 224.9 L498.0 224.9 L499.0 224.9 L500.0 224.9 L501.0 224.9 L502.0 224.9 L503.0 224.9 L504.0 224.9 L505.0 224.9 L506.0 224.9 L507.0 224.9 L508.0 224.9 L509.0 224.9 L510.0 224.9 L511.0 224.9 L512.0 224.9" stroke="#34b8e4" stroke-width="1.6" fill="none" stroke-linejoin="round"/>
<path d="M319.5 224.9 L320.0 224.9 L320.5 224.9 L321.0 224.9 L321.5 224.9 L322.0 224.9 L322.5 224.9 L323.0 224.8 L323.5 224.7 L324.0 224.6 L324.5 224.3 L325.0 224.1 L325.5 223.9 L326.0 223.6 L326.5 223.3 L327.0 223.0 L327.5 222.2 L328.0 222.6 L328.5 221.7 L329.0 221.7 L329.5 220.8 L330.0 221.3 L330.5 220.3 L331.0 219.8 L331.5 219.3 L332.0 218.8 L332.5 218.3 L333.0 217.5 L333.5 217.1 L334.0 217.3 L334.5 217.0 L335.0 216.8 L335.5 216.7 L336.0 217.3 L336.5 215.9 L337.0 217.0 L337.5 217.2 L338.0 217.4 L338.5 217.3 L339.0 216.7 L339.5 217.8 L340.0 217.9 L341.0 217.2 L342.0 218.1 L343.0 218.5 L344.0 217.9 L345.0 218.1 L346.0 218.3 L347.0 218.2 L348.0 219.2 L349.0 218.3 L350.0 218.6 L351.0 219.6 L352.0 219.7 L353.0 219.3 L354.0 219.4 L355.0 219.8 L356.0 220.1 L357.0 219.8 L358.0 220.2 L359.0 219.7 L360.0 219.5 L361.0 220.5 L362.0 220.0 L363.0 219.9 L364.0 220.8 L365.0 220.0 L366.0 220.0 L367.0 220.8 L368.0 220.8 L369.0 220.4 L370.0 220.9 L371.0 221.2 L372.0 220.5 L373.0 220.8 L374.0 221.4 L375.0 221.6 L376.0 221.6 L377.0 221.5 L378.0 220.8 L379.0 221.1 L380.0 221.0 L381.0 221.2 L382.0 221.2 L383.0 222.3 L384.0 221.8 L385.0 221.3 L386.0 221.3 L387.0 222.3 L388.0 222.1 L389.0 221.8 L390.0 222.2 L391.0 222.0 L392.0 222.7 L393.0 222.2 L394.0 222.2 L395.0 222.8 L396.0 222.7 L397.0 221.7 L398.0 221.9 L399.0 221.8 L400.0 222.2 L401.0 222.0 L402.0 221.9 L403.0 222.0 L404.0 223.1 L405.0 222.3 L406.0 222.9 L407.0 222.4 L408.0 222.9 L409.0 222.6 L410.0 222.1 L411.0 222.5 L412.0 223.1 L413.0 222.7 L414.0 222.9 L415.0 222.2 L416.0 223.2 L417.0 222.9 L418.0 223.0 L419.0 223.0 L420.0 223.0 L421.0 223.1 L422.0 223.1 L423.0 223.2 L424.0 223.2 L425.0 223.2 L426.0 223.3 L427.0 223.3 L428.0 223.4 L429.0 223.4 L430.0 223.4 L431.0 223.5 L432.0 223.5 L433.0 223.6 L434.0 223.6 L435.0 223.6 L436.0 223.7 L437.0 223.7 L438.0 223.8 L439.0 223.8 L440.0 223.8 L441.0 223.9 L442.0 223.9 L443.0 224.0 L444.0 224.0 L445.0 224.0 L446.0 224.1 L447.0 224.1 L448.0 224.2 L449.0 224.2 L450.0 224.2 L451.0 224.3 L452.0 224.3 L453.0 224.3 L454.0 224.4 L455.0 224.4 L456.0 224.4 L457.0 224.4 L458.0 224.5 L459.0 224.5 L460.0 224.5 L461.0 224.5 L462.0 224.6 L463.0 224.6 L464.0 224.6 L465.0 224.6 L466.0 224.7 L467.0 224.7 L468.0 224.7 L469.0 224.7 L470.0 224.7 L471.0 224.7 L472.0 224.7 L473.0 224.8 L474.0 224.8 L475.0 224.8 L476.0 224.8 L477.0 224.8 L478.0 224.8 L479.0 224.8 L480.0 224.8 L481.0 224.8 L482.0 224.8 L483.0 224.8 L484.0 224.8 L485.0 224.8 L486.0 224.9 L487.0 224.9 L488.0 224.9 L489.0 224.9 L490.0 224.9 L491.0 224.9 L492.0 224.9 L493.0 224.9 L494.0 224.9 L495.0 224.9 L496.0 224.9 L497.0 224.9 L498.0 224.9 L499.0 224.9 L500.0 224.9 L501.0 224.9 L502.0 224.9 L503.0 224.9 L504.0 224.9 L505.0 224.9 L506.0 224.9 L507.0 224.9 L508.0 224.9 L509.0 224.9 L510.0 224.9 L511.0 224.9 L512.0 224.9" stroke="#4a90e0" stroke-width="1.6" fill="none" stroke-linejoin="round"/>
<path d="M324.0 224.6 L326.0 224.6 L328.0 224.6 L330.0 224.6 L332.0 224.2 L334.0 223.8 L336.0 223.4 L338.0 223.0 L340.0 222.6 L342.0 222.5 L344.0 222.4 L346.0 222.4 L348.0 222.3 L350.0 222.2 L352.0 222.2 L354.0 222.1 L356.0 222.0 L358.0 221.9 L360.0 221.8 L362.0 221.8 L364.0 221.7 L366.0 221.6 L368.0 221.5 L370.0 221.5 L372.0 221.4 L374.0 221.3 L376.0 221.2 L378.0 221.2 L380.0 221.1 L382.0 221.0 L384.0 220.9 L386.0 220.9 L388.0 220.8 L390.0 220.7 L392.0 220.7 L394.0 220.6 L396.0 220.5 L398.0 220.4 L400.0 220.3 L402.0 220.3 L404.0 220.2 L406.0 220.1 L408.0 220.0 L410.0 220.0 L412.0 219.9 L414.0 219.8 L416.0 219.8 L418.0 219.7 L420.0 219.6 L422.0 219.8 L424.0 219.9 L426.0 220.1 L428.0 220.2 L430.0 220.4 L432.0 220.6 L434.0 220.7 L436.0 220.9 L438.0 221.0 L440.0 221.2 L442.0 221.4 L444.0 221.5 L446.0 221.7 L448.0 221.8 L450.0 222.0 L452.0 222.2 L454.0 222.3 L456.0 222.5 L458.0 222.6 L460.0 222.8 L462.0 223.0 L464.0 223.1 L466.0 223.3 L468.0 223.4 L470.0 223.6 L472.0 223.6 L474.0 223.7 L476.0 223.7 L478.0 223.8 L480.0 223.8 L482.0 223.9 L484.0 223.9 L486.0 224.0 L488.0 224.0 L490.0 224.1 L492.0 224.1 L494.0 224.2 L496.0 224.2 L498.0 224.3 L500.0 224.3 L502.0 224.4 L504.0 224.4 L506.0 224.5 L508.0 224.5 L510.0 224.6 L512.0 224.6" stroke="#1f3fc0" stroke-width="1.2" fill="none"/>
<path d="M319.2 225.3H512.0" stroke="#1a2a9a" stroke-width="2.4"/>
<path d="M345.5 224.9 L346.3 221.7 L347.1 218.5 L347.9 215.2 L348.7 211.9 L349.5 208.6 L350.3 205.3 L351.1 203.7 L351.9 202.4 L352.7 202.7 L353.5 203.2 L354.3 201.2 L355.1 203.1 L355.9 201.3 L356.7 201.7 L357.5 202.7 L358.3 200.9 L359.1 202.4 L359.9 200.8 L360.7 202.0 L361.5 201.7 L362.3 200.4 L363.1 198.7 L363.9 201.1 L364.7 200.6 L365.5 198.9 L366.3 197.6 L367.1 198.7 L367.9 199.1 L368.7 196.8 L369.5 199.9 L370.3 196.8 L371.1 198.6 L371.9 198.9 L372.7 198.7 L373.5 197.8 L374.3 195.8 L375.1 197.8 L375.9 196.1 L376.7 195.5 L377.5 196.0 L378.3 195.0 L379.1 196.3 L379.9 195.9 L380.7 195.0 L381.5 192.8 L382.3 193.3 L383.1 193.3 L383.9 191.9 L384.7 192.0 L385.5 192.1 L386.3 189.8 L387.1 189.6 L387.9 190.7 L388.7 188.9 L389.5 188.6 L390.3 186.7 L391.1 186.7 L391.9 187.8 L392.7 184.7 L393.5 187.3 L394.3 185.7 L395.1 183.9 L395.9 185.3 L396.7 183.2 L397.5 184.1 L398.3 181.0 L399.1 179.8 L399.9 179.7 L400.7 177.1 L401.5 177.6 L402.3 174.6 L403.1 173.4 L403.9 171.8 L404.7 170.5 L405.5 167.3 L406.3 165.2 L407.1 165.1 L407.9 162.6 L408.7 163.0 L409.5 158.7 L410.3 156.5 L411.1 152.9 L411.9 151.2 L412.7 150.8 L413.5 148.1 L414.3 145.5 L415.1 147.0 L415.9 144.6 L416.7 144.9 L417.5 144.3 L418.3 143.7 L419.1 139.8 L419.9 140.6 L420.7 138.6 L421.5 136.6 L422.3 133.3 L423.1 135.5 L423.9 134.4 L424.7 134.3 L425.5 133.4 L426.3 133.8 L427.1 133.9 L427.9 136.2 L428.7 135.9 L429.5 136.3 L430.3 135.0 L431.1 136.2 L431.9 140.5 L432.7 141.8 L433.5 143.0 L434.3 144.5 L435.1 145.2 L435.9 146.4 L436.7 149.2 L437.5 151.7 L438.3 151.8 L439.1 153.5 L439.9 154.3 L440.7 154.5 L441.5 157.0 L442.3 159.4 L443.1 160.9 L443.9 162.5 L444.7 166.6 L445.5 165.3 L446.3 167.6 L447.1 169.1 L447.9 171.2 L448.7 174.5 L449.5 176.3 L450.3 179.2 L451.1 179.2 L451.9 183.2 L452.7 185.2 L453.5 186.7 L454.3 188.9 L455.1 190.2 L455.9 192.8 L456.7 194.7 L457.5 195.8 L458.3 197.6 L459.1 198.3 L459.9 201.1 L460.7 199.5 L461.5 201.8 L462.3 204.9 L463.1 205.9 L463.9 206.9 L464.7 208.1 L465.5 210.0 L466.3 208.4 L467.1 208.8 L467.9 211.7 L468.7 212.6 L469.5 214.9 L470.3 215.5 L471.1 215.2 L471.9 216.0 L472.7 214.6 L473.5 217.5 L474.3 218.6 L475.1 215.8 L475.9 217.7 L476.7 219.5 L477.5 218.5 L478.3 220.8 L479.1 219.3 L479.9 218.1 L480.7 220.3 L481.5 220.6 L482.3 220.9 L483.1 221.2 L483.9 221.5 L484.7 221.8 L485.5 222.1 L486.3 222.4 L487.1 222.6 L487.9 222.7 L488.7 222.9 L489.5 223.1 L490.3 223.3 L491.1 223.5 L491.9 223.7 L492.7 223.8 L493.5 223.9 L494.3 224.0 L495.1 224.0 L495.9 224.1 L496.7 224.2 L497.5 224.3 L498.3 224.3 L499.1 224.4 L499.9 224.5 L500.7 224.5 L501.5 224.6 L502.3 224.6 L503.1 224.6 L503.9 224.6 L504.7 224.7 L505.5 224.7 L506.3 224.7 L507.1 224.7 L507.9 224.8 L508.7 224.8 L509.5 224.8 L510.3 224.8 L511.1 224.9 L511.9 224.9" stroke="#1d49b8" stroke-width="1.6" fill="none"/>
<path d="M401.5 117V122" stroke="#e3141e" stroke-width="1.5"/><path d="M398.2 120L401.5 127.6L404.9 120L401.5 122Z" fill="#e3141e"/>
<path d="M424.6 117V122" stroke="#1414c8" stroke-width="1.5"/><path d="M421.2 119.4L424.6 128L428 119.4L424.6 121.5Z" fill="#1414c8"/>
<path d="M362.5 91.5L359.5 99" stroke="#111" stroke-width="1.3"/><path d="M356.5 97.5L358.3 102.8L362.3 98.6Z" fill="#111"/>
<text x="353.2" y="69.3" font-size="12" fill="#231f20" stroke="#231f20" stroke-width="0.1" text-anchor="start" >Hot</text>
<text x="343.3" y="83.5" font-size="12" fill="#231f20" stroke="#231f20" stroke-width="0.1" text-anchor="start" >electron</text>
<path d="M402.6 50.2H417.6" stroke="#b4383a" stroke-width="1.3"/>
<path d="M402.6 52.4H417.6" stroke="#e2685a" stroke-width="1.3"/>
<path d="M402.6 54.6H417.6" stroke="#f2c64c" stroke-width="1.4"/>
<path d="M402.6 56.4H417.6" stroke="#ece46c" stroke-width="1.4"/>
<path d="M402.6 58.9H417.6" stroke="#a2de72" stroke-width="1.3"/>
<path d="M402.6 61.3H417.6" stroke="#3ec262" stroke-width="1.4"/>
<path d="M402.6 63.5H417.6" stroke="#5ed6c6" stroke-width="1.4"/>
<path d="M402.6 65.4H417.6" stroke="#7ee2e6" stroke-width="1.4"/>
<path d="M402.6 68.4H417.6" stroke="#2e8ed0" stroke-width="1.3"/>
<path d="M402.6 70.4H417.6" stroke="#1e5aa8" stroke-width="1.4"/>
<path d="M422.5 71.6V55" stroke="#111" stroke-width="1.3"/><path d="M419.8 58.2L422.5 49.6L425.2 58.2L422.5 56.2Z" fill="#111"/>
<text x="428.8" y="57.3" font-size="12.1" fill="#231f20" stroke="#231f20" stroke-width="0.1" text-anchor="start" >Increasing Ag</text>
<text x="428.8" y="70.8" font-size="12.1" fill="#231f20" stroke="#231f20" stroke-width="0.1" text-anchor="start" >coverage</text>
<rect x="403.5" y="81.8" width="14" height="5.2" fill="#f4e6f8" stroke="#3a3ab8" stroke-width="1.2"/>
<text x="425.5" y="89.4" font-size="12.1" fill="#231f20" stroke="#231f20" stroke-width="0.1">Clean TiO<tspan font-size="8.5" dy="3">2</tspan><tspan dy="-3"> × 50</tspan></text>
<text x="468.3" y="205" font-size="11.5" font-style="italic" fill="#231f20" stroke="#231f20" stroke-width="0.1">E<tspan font-size="8" dy="2.5" font-style="normal">F</tspan><tspan dy="-2.5" font-style="normal">+2</tspan>hv</text>
<path d="M488.1 208V224.4" stroke="#231f20" stroke-width="1"/>
<path d="M345.5 409.6 L346.5 406.4 L347.5 403.2 L348.5 399.9 L349.5 396.6 L350.5 394.5 L351.5 389.6 L352.5 391.7 L353.5 386.3 L354.5 381.8 L355.5 383.3 L356.5 383.4 L357.5 380.2 L358.5 378.1 L359.5 379.4 L360.5 377.9 L361.5 376.2 L362.5 373.7 L363.5 371.8 L364.5 371.7 L365.5 371.1 L366.5 371.2 L367.5 366.7 L368.5 363.3 L369.5 363.7 L370.5 362.6 L371.5 360.6 L372.5 362.6 L373.5 357.4 L374.5 358.2 L375.5 356.4 L376.5 354.7 L377.5 354.7 L378.5 354.8 L379.5 354.1 L380.5 352.8 L381.5 348.8 L382.5 348.0 L383.5 344.6 L384.5 347.2 L385.5 342.8 L386.5 337.1 L387.5 340.1 L388.5 336.3 L389.5 335.3 L390.5 335.4 L391.5 328.6 L392.5 332.5 L393.5 327.4 L394.5 330.7 L395.5 330.0 L396.5 322.5 L397.5 324.3 L398.5 325.7 L399.5 321.7 L400.5 319.8 L401.5 315.7 L402.5 318.2 L403.5 315.1 L404.5 307.2 L405.5 306.6 L406.5 308.6 L407.5 304.8 L408.5 302.3 L409.5 297.5 L410.5 296.0 L411.5 292.7 L412.5 291.4 L413.5 292.2 L414.5 289.2 L415.5 288.0 L416.5 286.6 L417.5 287.6 L418.5 284.0 L419.5 283.5 L420.5 280.9 L421.5 285.9 L422.5 279.3 L423.5 285.0 L424.5 278.3 L425.5 278.9 L426.5 279.8 L427.5 276.9 L428.5 280.6 L429.5 283.6 L430.5 282.6 L431.5 283.8 L432.5 287.6 L433.5 291.8 L434.5 293.7 L435.5 296.0 L436.5 296.2 L437.5 301.6 L438.5 303.1 L439.5 304.1 L440.5 307.7 L441.5 310.6 L442.5 309.5 L443.5 311.4 L444.5 316.4 L445.5 319.2 L446.5 323.9 L447.5 325.9 L448.5 330.1 L449.5 329.7 L450.5 332.6 L451.5 339.3 L452.5 335.9 L453.5 343.2 L454.5 341.9 L455.5 344.7 L456.5 346.4 L457.5 354.8 L458.5 355.8 L459.5 354.7 L460.5 364.8 L461.5 367.9 L462.5 367.4 L463.5 371.2 L464.5 371.4 L465.5 375.9 L466.5 380.9 L467.5 379.2 L468.5 384.7 L469.5 386.6 L470.5 386.8 L471.5 390.3 L472.5 391.7 L473.5 391.4 L474.5 394.2 L475.5 391.8 L476.5 394.5 L477.5 396.4 L478.5 399.6 L479.5 399.1 L480.5 400.0 L481.5 400.2 L482.5 401.2 L483.5 401.0 L484.5 401.7 L485.5 404.0 L486.5 404.7 L487.5 404.6 L488.5 403.9 L489.5 406.5 L490.5 406.5 L491.5 407.0 L492.5 407.5 L493.5 408.0 L494.5 408.1 L495.5 408.2 L496.5 408.3 L497.5 408.4 L498.5 408.5 L499.5 408.6 L500.5 408.7 L501.5 408.8 L502.5 409.0 L503.5 409.1 L504.5 409.1 L505.5 409.2 L506.5 409.3 L507.5 409.3 L508.5 409.4 L509.5 409.4 L510.5 409.5 L511.5 409.6 L512 409.6 L345.5 409.6Z" fill="#f6ddf4" stroke="none"/>
<path d="M320.5 409.6 L321.9 409.6 L323.4 400.8 L324.8 387.1 L326.3 384.2 L327.7 364.6 L329.2 323.3 L330.6 298.8 L332.1 282.4 L333.5 270.1 L335.0 247.6 L336.4 249.6 L337.9 247.7 L339.3 244.9 L340.8 248.7 L342.2 261.2 L343.7 269.1 L345.1 267.7 L346.6 263.1 L348.0 263.8 L349.5 271.6 L350.9 272.2 L352.4 262.4 L353.8 263.6 L355.3 269.8 L356.7 255.6 L358.2 264.3 L359.6 278.5 L361.1 270.5 L362.5 262.2 L364.0 273.6 L365.4 265.2 L366.9 281.4 L368.3 274.9 L369.8 262.9 L371.2 269.2 L372.7 267.7 L374.1 278.9 L375.6 272.4 L377.0 271.5 L378.5 278.5 L379.9 270.1 L381.4 273.3 L382.8 263.1 L384.3 273.3 L385.7 277.6 L387.2 284.8 L388.6 284.5 L390.1 271.1 L391.5 286.7 L393.0 287.3 L394.4 286.2 L395.9 279.8 L397.3 275.2 L398.8 282.4 L400.2 280.3 L401.7 299.7 L403.1 303.2 L404.6 288.9 L406.0 303.4 L407.5 298.7 L408.9 311.2 L410.4 319.4 L411.8 320.1 L413.3 326.8 L414.7 311.2 L416.2 321.6 L417.6 329.9 L419.1 330.5 L420.5 334.9 L422.0 345.0 L423.4 328.2 L424.9 337.7 L426.3 331.4 L427.8 345.7 L429.2 344.0 L430.7 354.9 L432.1 362.0 L433.6 344.2 L435.0 348.7 L436.5 363.8 L437.9 353.1 L439.4 357.8 L440.8 372.3 L442.3 368.1 L443.7 362.6 L445.2 375.6 L446.6 367.5 L448.1 386.0 L449.5 384.9 L451.0 379.6 L452.4 392.7 L453.9 392.8 L455.3 385.0 L456.8 393.2 L458.2 390.6 L459.7 399.4 L461.1 401.5 L462.6 400.9 L464.0 403.7 L465.5 400.0 L466.9 404.9 L468.4 404.0 L469.8 404.9 L471.3 405.4 L472.7 405.9 L474.2 406.4 L475.6 406.9 L477.1 407.4 L478.5 407.8 L480.0 407.9 L481.4 408.0 L482.9 408.2 L484.3 408.3 L485.8 408.4 L487.2 408.5 L488.7 408.6 L490.1 408.7 L491.6 408.9 L493.0 409.0 L494.5 409.1 L495.9 409.2 L497.4 409.2 L498.8 409.2 L500.3 409.3 L501.7 409.3 L503.2 409.4 L504.6 409.4 L506.1 409.4 L507.5 409.5 L509.0 409.5 L510.4 409.6 L511.9 409.6" stroke="#e3202a" stroke-width="1.65" fill="none" stroke-linejoin="round"/>
<path d="M320.5 409.6 L321.9 409.6 L323.4 409.6 L324.8 409.6 L326.3 397.8 L327.7 373.8 L329.2 351.9 L330.6 325.6 L332.1 314.9 L333.5 299.6 L335.0 280.2 L336.4 286.9 L337.9 286.6 L339.3 289.9 L340.8 290.8 L342.2 294.4 L343.7 300.9 L345.1 291.4 L346.6 298.5 L348.0 303.1 L349.5 293.6 L350.9 306.3 L352.4 303.9 L353.8 294.2 L355.3 308.7 L356.7 303.3 L358.2 296.1 L359.6 297.0 L361.1 309.5 L362.5 306.1 L364.0 299.4 L365.4 306.2 L366.9 295.5 L368.3 310.0 L369.8 296.2 L371.2 304.9 L372.7 310.5 L374.1 306.5 L375.6 312.9 L377.0 302.4 L378.5 311.5 L379.9 299.9 L381.4 306.4 L382.8 311.2 L384.3 314.1 L385.7 307.8 L387.2 315.9 L388.6 304.0 L390.1 318.8 L391.5 312.0 L393.0 312.0 L394.4 317.7 L395.9 309.4 L397.3 318.2 L398.8 314.5 L400.2 317.7 L401.7 324.1 L403.1 324.0 L404.6 331.3 L406.0 331.1 L407.5 319.7 L408.9 331.3 L410.4 326.6 L411.8 339.6 L413.3 333.5 L414.7 339.9 L416.2 339.8 L417.6 346.2 L419.1 353.1 L420.5 351.0 L422.0 354.8 L423.4 358.8 L424.9 349.6 L426.3 360.0 L427.8 359.8 L429.2 352.2 L430.7 356.8 L432.1 356.9 L433.6 359.5 L435.0 375.6 L436.5 375.2 L437.9 382.1 L439.4 372.1 L440.8 374.7 L442.3 382.9 L443.7 384.0 L445.2 381.2 L446.6 382.6 L448.1 392.1 L449.5 384.6 L451.0 393.7 L452.4 392.0 L453.9 398.8 L455.3 400.7 L456.8 394.6 L458.2 397.4 L459.7 398.9 L461.1 404.3 L462.6 405.0 L464.0 405.2 L465.5 404.7 L466.9 405.3 L468.4 405.7 L469.8 406.0 L471.3 406.3 L472.7 406.7 L474.2 407.0 L475.6 407.3 L477.1 407.7 L478.5 408.0 L480.0 408.3 L481.4 408.4 L482.9 408.4 L484.3 408.5 L485.8 408.6 L487.2 408.6 L488.7 408.7 L490.1 408.7 L491.6 408.8 L493.0 408.8 L494.5 408.9 L495.9 409.0 L497.4 409.0 L498.8 409.1 L500.3 409.1 L501.7 409.2 L503.2 409.2 L504.6 409.3 L506.1 409.4 L507.5 409.4 L509.0 409.5 L510.4 409.5 L511.9 409.6" stroke="#ee6a22" stroke-width="1.65" fill="none" stroke-linejoin="round"/>
<path d="M320.5 409.6 L321.9 409.6 L323.4 406.0 L324.8 398.3 L326.3 386.9 L327.7 371.1 L329.2 360.7 L330.6 342.8 L332.1 327.7 L333.5 325.4 L335.0 311.3 L336.4 314.2 L337.9 310.9 L339.3 317.7 L340.8 315.4 L342.2 312.1 L343.7 318.2 L345.1 324.4 L346.6 311.6 L348.0 313.0 L349.5 321.4 L350.9 325.8 L352.4 313.4 L353.8 317.8 L355.3 327.3 L356.7 324.7 L358.2 327.3 L359.6 316.9 L361.1 326.7 L362.5 316.0 L364.0 319.1 L365.4 330.2 L366.9 321.0 L368.3 326.3 L369.8 321.1 L371.2 320.3 L372.7 329.6 L374.1 333.1 L375.6 319.9 L377.0 328.8 L378.5 321.3 L379.9 325.7 L381.4 325.5 L382.8 324.7 L384.3 328.5 L385.7 331.9 L387.2 338.8 L388.6 329.1 L390.1 334.0 L391.5 333.3 L393.0 327.2 L394.4 340.6 L395.9 331.4 L397.3 344.1 L398.8 334.7 L400.2 334.3 L401.7 344.2 L403.1 340.8 L404.6 335.3 L406.0 342.0 L407.5 345.0 L408.9 351.1 L410.4 355.7 L411.8 352.8 L413.3 353.8 L414.7 359.1 L416.2 359.2 L417.6 363.9 L419.1 356.6 L420.5 359.1 L422.0 367.7 L423.4 369.3 L424.9 366.6 L426.3 369.4 L427.8 363.1 L429.2 374.1 L430.7 376.6 L432.1 368.9 L433.6 382.5 L435.0 377.4 L436.5 382.8 L437.9 376.8 L439.4 382.8 L440.8 381.2 L442.3 391.8 L443.7 386.5 L445.2 388.9 L446.6 392.0 L448.1 390.1 L449.5 391.1 L451.0 399.2 L452.4 398.8 L453.9 399.5 L455.3 401.6 L456.8 403.2 L458.2 402.7 L459.7 403.8 L461.1 402.4 L462.6 404.3 L464.0 405.0 L465.5 405.8 L466.9 406.3 L468.4 406.6 L469.8 406.8 L471.3 407.1 L472.7 407.4 L474.2 407.6 L475.6 407.9 L477.1 408.2 L478.5 408.4 L480.0 408.6 L481.4 408.7 L482.9 408.7 L484.3 408.8 L485.8 408.8 L487.2 408.9 L488.7 408.9 L490.1 409.0 L491.6 409.0 L493.0 409.1 L494.5 409.1 L495.9 409.2 L497.4 409.2 L498.8 409.2 L500.3 409.3 L501.7 409.3 L503.2 409.4 L504.6 409.4 L506.1 409.4 L507.5 409.5 L509.0 409.5 L510.4 409.6 L511.9 409.6" stroke="#f5b021" stroke-width="1.65" fill="none" stroke-linejoin="round"/>
<path d="M320.5 409.6 L321.9 409.6 L323.4 406.7 L324.8 399.2 L326.3 387.6 L327.7 371.6 L329.2 359.1 L330.6 350.6 L332.1 344.1 L333.5 337.2 L335.0 320.2 L336.4 322.3 L337.9 330.4 L339.3 320.7 L340.8 317.5 L342.2 323.9 L343.7 330.7 L345.1 325.9 L346.6 327.2 L348.0 331.1 L349.5 326.7 L350.9 334.7 L352.4 322.5 L353.8 326.8 L355.3 327.6 L356.7 323.8 L358.2 328.2 L359.6 334.4 L361.1 334.9 L362.5 336.9 L364.0 339.0 L365.4 329.0 L366.9 328.6 L368.3 336.7 L369.8 338.8 L371.2 332.9 L372.7 330.5 L374.1 329.9 L375.6 341.0 L377.0 332.9 L378.5 332.9 L379.9 334.7 L381.4 341.1 L382.8 343.7 L384.3 335.3 L385.7 343.0 L387.2 342.9 L388.6 340.9 L390.1 344.1 L391.5 338.2 L393.0 347.1 L394.4 350.4 L395.9 343.9 L397.3 344.1 L398.8 342.4 L400.2 345.0 L401.7 343.2 L403.1 343.6 L404.6 350.9 L406.0 351.8 L407.5 357.6 L408.9 356.6 L410.4 353.9 L411.8 362.6 L413.3 355.8 L414.7 364.8 L416.2 362.6 L417.6 357.0 L419.1 371.0 L420.5 373.4 L422.0 369.3 L423.4 374.3 L424.9 368.4 L426.3 380.0 L427.8 369.7 L429.2 371.0 L430.7 373.5 L432.1 380.1 L433.6 383.6 L435.0 379.8 L436.5 383.4 L437.9 386.2 L439.4 388.8 L440.8 388.9 L442.3 387.9 L443.7 387.9 L445.2 388.7 L446.6 396.8 L448.1 396.7 L449.5 396.7 L451.0 397.1 L452.4 399.7 L453.9 401.7 L455.3 403.1 L456.8 402.7 L458.2 402.8 L459.7 401.7 L461.1 402.9 L462.6 404.9 L464.0 405.6 L465.5 406.3 L466.9 406.7 L468.4 407.0 L469.8 407.2 L471.3 407.4 L472.7 407.6 L474.2 407.8 L475.6 408.1 L477.1 408.3 L478.5 408.5 L480.0 408.7 L481.4 408.8 L482.9 408.8 L484.3 408.9 L485.8 408.9 L487.2 408.9 L488.7 409.0 L490.1 409.0 L491.6 409.1 L493.0 409.1 L494.5 409.1 L495.9 409.2 L497.4 409.2 L498.8 409.2 L500.3 409.3 L501.7 409.3 L503.2 409.4 L504.6 409.4 L506.1 409.4 L507.5 409.5 L509.0 409.5 L510.4 409.6 L511.9 409.6" stroke="#f0d21e" stroke-width="1.65" fill="none" stroke-linejoin="round"/>
<path d="M320.5 409.6 L321.9 409.6 L323.4 407.1 L324.8 395.9 L326.3 383.3 L327.7 370.4 L329.2 362.4 L330.6 350.2 L332.1 352.7 L333.5 338.3 L335.0 336.2 L336.4 339.0 L337.9 334.5 L339.3 329.1 L340.8 335.4 L342.2 333.8 L343.7 338.5 L345.1 338.4 L346.6 332.2 L348.0 343.2 L349.5 341.7 L350.9 336.1 L352.4 339.4 L353.8 344.3 L355.3 337.6 L356.7 341.7 L358.2 339.5 L359.6 342.0 L361.1 341.0 L362.5 341.0 L364.0 343.5 L365.4 347.5 L366.9 347.1 L368.3 338.7 L369.8 343.4 L371.2 349.2 L372.7 340.4 L374.1 348.4 L375.6 350.8 L377.0 345.8 L378.5 349.8 L379.9 347.4 L381.4 347.1 L382.8 351.7 L384.3 347.9 L385.7 354.1 L387.2 349.7 L388.6 349.2 L390.1 356.1 L391.5 352.5 L393.0 357.2 L394.4 353.2 L395.9 348.6 L397.3 353.4 L398.8 352.2 L400.2 352.6 L401.7 361.4 L403.1 351.4 L404.6 355.6 L406.0 364.2 L407.5 356.0 L408.9 362.3 L410.4 366.1 L411.8 357.8 L413.3 364.2 L414.7 363.0 L416.2 372.4 L417.6 366.0 L419.1 376.4 L420.5 375.7 L422.0 375.3 L423.4 381.1 L424.9 375.2 L426.3 381.2 L427.8 381.5 L429.2 377.7 L430.7 382.5 L432.1 378.1 L433.6 382.8 L435.0 381.2 L436.5 386.2 L437.9 383.9 L439.4 385.9 L440.8 394.0 L442.3 390.2 L443.7 394.9 L445.2 392.8 L446.6 394.6 L448.1 394.9 L449.5 400.2 L451.0 399.8 L452.4 399.1 L453.9 399.4 L455.3 401.4 L456.8 404.4 L458.2 403.2 L459.7 405.3 L461.1 404.8 L462.6 405.5 L464.0 406.1 L465.5 406.8 L466.9 407.1 L468.4 407.3 L469.8 407.5 L471.3 407.7 L472.7 407.9 L474.2 408.1 L475.6 408.3 L477.1 408.5 L478.5 408.7 L480.0 408.8 L481.4 408.9 L482.9 408.9 L484.3 409.0 L485.8 409.0 L487.2 409.0 L488.7 409.1 L490.1 409.1 L491.6 409.1 L493.0 409.2 L494.5 409.2 L495.9 409.2 L497.4 409.3 L498.8 409.3 L500.3 409.3 L501.7 409.4 L503.2 409.4 L504.6 409.4 L506.1 409.5 L507.5 409.5 L509.0 409.5 L510.4 409.6 L511.9 409.6" stroke="#c8df2a" stroke-width="1.65" fill="none" stroke-linejoin="round"/>
<path d="M320.5 409.6 L321.9 409.6 L323.4 407.5 L324.8 399.7 L326.3 389.3 L327.7 385.8 L329.2 366.4 L330.6 361.0 L332.1 360.0 L333.5 355.0 L335.0 349.7 L336.4 344.4 L337.9 346.4 L339.3 351.0 L340.8 352.4 L342.2 351.8 L343.7 344.5 L345.1 351.7 L346.6 348.0 L348.0 351.3 L349.5 347.2 L350.9 351.0 L352.4 354.1 L353.8 346.2 L355.3 350.4 L356.7 349.1 L358.2 348.1 L359.6 346.9 L361.1 357.7 L362.5 354.4 L364.0 356.9 L365.4 353.4 L366.9 349.6 L368.3 350.8 L369.8 359.7 L371.2 358.4 L372.7 351.7 L374.1 353.6 L375.6 357.2 L377.0 356.6 L378.5 360.6 L379.9 353.4 L381.4 358.9 L382.8 353.9 L384.3 357.3 L385.7 363.7 L387.2 361.3 L388.6 363.0 L390.1 355.8 L391.5 359.7 L393.0 366.2 L394.4 365.3 L395.9 363.7 L397.3 363.3 L398.8 362.8 L400.2 365.6 L401.7 366.7 L403.1 371.4 L404.6 365.7 L406.0 369.2 L407.5 373.4 L408.9 369.2 L410.4 364.2 L411.8 376.0 L413.3 376.1 L414.7 371.4 L416.2 377.2 L417.6 378.4 L419.1 377.1 L420.5 381.0 L422.0 378.7 L423.4 380.3 L424.9 376.6 L426.3 377.3 L427.8 389.1 L429.2 384.3 L430.7 383.3 L432.1 383.5 L433.6 385.7 L435.0 388.2 L436.5 389.4 L437.9 392.8 L439.4 394.5 L440.8 391.9 L442.3 392.6 L443.7 393.5 L445.2 396.1 L446.6 399.1 L448.1 397.7 L449.5 398.8 L451.0 400.7 L452.4 401.2 L453.9 403.1 L455.3 403.3 L456.8 404.2 L458.2 405.5 L459.7 405.0 L461.1 405.6 L462.6 406.1 L464.0 406.7 L465.5 407.2 L466.9 407.5 L468.4 407.7 L469.8 407.8 L471.3 408.0 L472.7 408.2 L474.2 408.3 L475.6 408.5 L477.1 408.6 L478.5 408.8 L480.0 409.0 L481.4 409.0 L482.9 409.0 L484.3 409.1 L485.8 409.1 L487.2 409.1 L488.7 409.1 L490.1 409.2 L491.6 409.2 L493.0 409.2 L494.5 409.3 L495.9 409.3 L497.4 409.3 L498.8 409.3 L500.3 409.4 L501.7 409.4 L503.2 409.4 L504.6 409.5 L506.1 409.5 L507.5 409.5 L509.0 409.5 L510.4 409.6 L511.9 409.6" stroke="#86d43a" stroke-width="1.65" fill="none" stroke-linejoin="round"/>
<path d="M320.5 409.6 L321.9 409.6 L323.4 407.9 L324.8 402.2 L326.3 396.2 L327.7 382.4 L329.2 378.7 L330.6 373.2 L332.1 369.8 L333.5 365.2 L335.0 362.1 L336.4 363.5 L337.9 364.1 L339.3 355.0 L340.8 359.4 L342.2 359.8 L343.7 358.9 L345.1 361.9 L346.6 363.5 L348.0 364.8 L349.5 362.8 L350.9 363.0 L352.4 359.1 L353.8 361.2 L355.3 357.6 L356.7 363.9 L358.2 358.4 L359.6 362.1 L361.1 367.4 L362.5 366.7 L364.0 363.0 L365.4 359.2 L366.9 365.8 L368.3 361.9 L369.8 365.7 L371.2 361.6 L372.7 369.9 L374.1 366.0 L375.6 362.2 L377.0 368.7 L378.5 369.3 L379.9 372.0 L381.4 370.9 L382.8 370.2 L384.3 366.2 L385.7 371.4 L387.2 370.0 L388.6 372.3 L390.1 368.6 L391.5 366.4 L393.0 368.9 L394.4 373.7 L395.9 368.9 L397.3 367.2 L398.8 371.4 L400.2 377.2 L401.7 370.5 L403.1 370.4 L404.6 376.3 L406.0 379.0 L407.5 379.1 L408.9 376.2 L410.4 373.5 L411.8 376.8 L413.3 375.0 L414.7 383.1 L416.2 383.0 L417.6 379.8 L419.1 381.8 L420.5 385.2 L422.0 383.5 L423.4 387.6 L424.9 391.0 L426.3 388.6 L427.8 392.6 L429.2 388.7 L430.7 391.8 L432.1 391.5 L433.6 391.7 L435.0 394.9 L436.5 394.4 L437.9 397.9 L439.4 393.7 L440.8 396.6 L442.3 395.5 L443.7 400.7 L445.2 399.0 L446.6 399.4 L448.1 401.6 L449.5 403.0 L451.0 403.4 L452.4 404.1 L453.9 403.3 L455.3 404.6 L456.8 405.0 L458.2 405.5 L459.7 405.9 L461.1 406.4 L462.6 406.8 L464.0 407.2 L465.5 407.7 L466.9 407.9 L468.4 408.0 L469.8 408.2 L471.3 408.3 L472.7 408.4 L474.2 408.6 L475.6 408.7 L477.1 408.8 L478.5 409.0 L480.0 409.1 L481.4 409.1 L482.9 409.1 L484.3 409.2 L485.8 409.2 L487.2 409.2 L488.7 409.2 L490.1 409.3 L491.6 409.3 L493.0 409.3 L494.5 409.3 L495.9 409.3 L497.4 409.4 L498.8 409.4 L500.3 409.4 L501.7 409.4 L503.2 409.5 L504.6 409.5 L506.1 409.5 L507.5 409.5 L509.0 409.6 L510.4 409.6 L511.9 409.6" stroke="#3fc64a" stroke-width="1.65" fill="none" stroke-linejoin="round"/>
<path d="M320.5 409.6 L321.9 409.6 L323.4 408.3 L324.8 404.4 L326.3 397.1 L327.7 392.4 L329.2 385.2 L330.6 379.5 L332.1 376.3 L333.5 371.8 L335.0 370.8 L336.4 372.6 L337.9 368.4 L339.3 372.3 L340.8 368.5 L342.2 368.3 L343.7 368.4 L345.1 372.8 L346.6 368.9 L348.0 367.3 L349.5 372.2 L350.9 374.0 L352.4 372.1 L353.8 368.5 L355.3 376.1 L356.7 377.4 L358.2 373.4 L359.6 372.0 L361.1 371.2 L362.5 375.1 L364.0 369.7 L365.4 376.8 L366.9 372.3 L368.3 378.5 L369.8 379.3 L371.2 378.6 L372.7 379.5 L374.1 375.7 L375.6 375.5 L377.0 379.1 L378.5 372.5 L379.9 378.0 L381.4 380.2 L382.8 380.2 L384.3 375.4 L385.7 374.1 L387.2 381.2 L388.6 382.6 L390.1 376.2 L391.5 381.3 L393.0 374.9 L394.4 379.5 L395.9 378.6 L397.3 381.7 L398.8 378.1 L400.2 381.6 L401.7 383.3 L403.1 378.5 L404.6 386.1 L406.0 381.0 L407.5 387.4 L408.9 382.7 L410.4 385.4 L411.8 382.1 L413.3 389.8 L414.7 386.4 L416.2 388.4 L417.6 385.2 L419.1 386.0 L420.5 389.1 L422.0 392.6 L423.4 393.0 L424.9 393.6 L426.3 393.2 L427.8 395.0 L429.2 395.8 L430.7 393.5 L432.1 394.8 L433.6 397.2 L435.0 394.7 L436.5 398.9 L437.9 398.1 L439.4 400.4 L440.8 398.5 L442.3 399.3 L443.7 401.9 L445.2 401.1 L446.6 401.5 L448.1 403.4 L449.5 403.9 L451.0 404.1 L452.4 404.6 L453.9 405.2 L455.3 405.7 L456.8 406.1 L458.2 406.4 L459.7 406.7 L461.1 407.1 L462.6 407.4 L464.0 407.8 L465.5 408.1 L466.9 408.3 L468.4 408.4 L469.8 408.5 L471.3 408.6 L472.7 408.7 L474.2 408.8 L475.6 408.9 L477.1 409.0 L478.5 409.1 L480.0 409.2 L481.4 409.2 L482.9 409.2 L484.3 409.3 L485.8 409.3 L487.2 409.3 L488.7 409.3 L490.1 409.3 L491.6 409.3 L493.0 409.4 L494.5 409.4 L495.9 409.4 L497.4 409.4 L498.8 409.4 L500.3 409.5 L501.7 409.5 L503.2 409.5 L504.6 409.5 L506.1 409.5 L507.5 409.5 L509.0 409.6 L510.4 409.6 L511.9 409.6" stroke="#22c07a" stroke-width="1.65" fill="none" stroke-linejoin="round"/>
<path d="M320.5 409.6 L321.9 409.6 L323.4 408.6 L324.8 405.0 L326.3 400.0 L327.7 397.6 L329.2 390.2 L330.6 386.7 L332.1 385.0 L333.5 381.3 L335.0 377.7 L336.4 382.7 L337.9 376.9 L339.3 380.8 L340.8 377.6 L342.2 377.1 L343.7 382.7 L345.1 377.4 L346.6 376.6 L348.0 382.3 L349.5 384.7 L350.9 384.2 L352.4 377.5 L353.8 385.4 L355.3 378.3 L356.7 384.6 L358.2 380.1 L359.6 385.4 L361.1 385.0 L362.5 381.0 L364.0 385.9 L365.4 384.1 L366.9 379.7 L368.3 381.5 L369.8 380.3 L371.2 379.7 L372.7 387.4 L374.1 386.0 L375.6 381.7 L377.0 382.7 L378.5 388.2 L379.9 384.6 L381.4 387.0 L382.8 385.6 L384.3 388.4 L385.7 389.2 L387.2 381.9 L388.6 387.3 L390.1 383.3 L391.5 389.1 L393.0 386.6 L394.4 389.4 L395.9 387.5 L397.3 389.6 L398.8 386.4 L400.2 390.5 L401.7 386.8 L403.1 388.8 L404.6 391.6 L406.0 390.4 L407.5 389.8 L408.9 387.5 L410.4 391.5 L411.8 392.8 L413.3 389.1 L414.7 390.2 L416.2 391.7 L417.6 394.7 L419.1 395.7 L420.5 395.8 L422.0 397.2 L423.4 397.8 L424.9 396.3 L426.3 397.2 L427.8 397.1 L429.2 398.4 L430.7 400.2 L432.1 398.3 L433.6 399.0 L435.0 399.9 L436.5 400.4 L437.9 400.6 L439.4 400.4 L440.8 401.2 L442.3 402.2 L443.7 403.4 L445.2 404.0 L446.6 404.2 L448.1 403.8 L449.5 405.0 L451.0 405.4 L452.4 405.8 L453.9 406.3 L455.3 406.7 L456.8 406.9 L458.2 407.2 L459.7 407.4 L461.1 407.7 L462.6 407.9 L464.0 408.2 L465.5 408.5 L466.9 408.6 L468.4 408.7 L469.8 408.8 L471.3 408.8 L472.7 408.9 L474.2 409.0 L475.6 409.1 L477.1 409.1 L478.5 409.2 L480.0 409.3 L481.4 409.3 L482.9 409.3 L484.3 409.3 L485.8 409.4 L487.2 409.4 L488.7 409.4 L490.1 409.4 L491.6 409.4 L493.0 409.4 L494.5 409.4 L495.9 409.4 L497.4 409.5 L498.8 409.5 L500.3 409.5 L501.7 409.5 L503.2 409.5 L504.6 409.5 L506.1 409.5 L507.5 409.6 L509.0 409.6 L510.4 409.6 L511.9 409.6" stroke="#22c0b0" stroke-width="1.65" fill="none" stroke-linejoin="round"/>
<path d="M320.5 409.6 L321.9 409.6 L323.4 408.8 L324.8 406.1 L326.3 403.3 L327.7 399.6 L329.2 395.9 L330.6 394.2 L332.1 387.9 L333.5 391.3 L335.0 386.9 L336.4 384.6 L337.9 388.4 L339.3 385.9 L340.8 387.5 L342.2 388.5 L343.7 388.9 L345.1 389.5 L346.6 385.2 L348.0 385.7 L349.5 385.1 L350.9 390.4 L352.4 386.7 L353.8 389.0 L355.3 387.3 L356.7 388.0 L358.2 389.5 L359.6 385.8 L361.1 391.5 L362.5 387.4 L364.0 387.0 L365.4 389.0 L366.9 388.7 L368.3 386.6 L369.8 390.9 L371.2 388.9 L372.7 388.4 L374.1 390.5 L375.6 388.9 L377.0 390.7 L378.5 390.2 L379.9 389.9 L381.4 389.7 L382.8 391.7 L384.3 390.3 L385.7 390.9 L387.2 392.6 L388.6 390.9 L390.1 392.7 L391.5 389.8 L393.0 392.0 L394.4 391.0 L395.9 392.2 L397.3 392.7 L398.8 394.1 L400.2 394.7 L401.7 391.5 L403.1 393.5 L404.6 393.8 L406.0 394.0 L407.5 393.1 L408.9 395.7 L410.4 396.3 L411.8 394.2 L413.3 396.1 L414.7 395.9 L416.2 395.7 L417.6 396.0 L419.1 396.5 L420.5 399.6 L422.0 399.0 L423.4 398.1 L424.9 398.5 L426.3 400.8 L427.8 401.1 L429.2 401.2 L430.7 401.9 L432.1 401.7 L433.6 401.2 L435.0 402.2 L436.5 402.7 L437.9 403.8 L439.4 403.6 L440.8 403.1 L442.3 404.0 L443.7 404.7 L445.2 405.0 L446.6 405.4 L448.1 405.7 L449.5 406.0 L451.0 406.4 L452.4 406.7 L453.9 407.0 L455.3 407.3 L456.8 407.5 L458.2 407.7 L459.7 407.9 L461.1 408.1 L462.6 408.3 L464.0 408.5 L465.5 408.7 L466.9 408.8 L468.4 408.9 L469.8 409.0 L471.3 409.0 L472.7 409.1 L474.2 409.1 L475.6 409.2 L477.1 409.3 L478.5 409.3 L480.0 409.4 L481.4 409.4 L482.9 409.4 L484.3 409.4 L485.8 409.4 L487.2 409.4 L488.7 409.4 L490.1 409.4 L491.6 409.5 L493.0 409.5 L494.5 409.5 L495.9 409.5 L497.4 409.5 L498.8 409.5 L500.3 409.5 L501.7 409.5 L503.2 409.5 L504.6 409.5 L506.1 409.6 L507.5 409.6 L509.0 409.6 L510.4 409.6 L511.9 409.6" stroke="#2ab6dc" stroke-width="1.65" fill="none" stroke-linejoin="round"/>
<path d="M320.5 409.6 L321.9 409.6 L323.4 409.1 L324.8 407.2 L326.3 405.2 L327.7 402.8 L329.2 400.2 L330.6 397.4 L332.1 396.0 L333.5 396.4 L335.0 394.1 L336.4 394.9 L337.9 394.2 L339.3 395.0 L340.8 394.7 L342.2 394.9 L343.7 394.8 L345.1 396.1 L346.6 395.6 L348.0 394.4 L349.5 396.2 L350.9 395.9 L352.4 394.2 L353.8 395.8 L355.3 395.7 L356.7 396.1 L358.2 394.3 L359.6 396.7 L361.1 395.1 L362.5 394.5 L364.0 396.6 L365.4 396.0 L366.9 395.0 L368.3 395.6 L369.8 396.4 L371.2 397.5 L372.7 396.4 L374.1 396.7 L375.6 395.8 L377.0 397.1 L378.5 396.9 L379.9 396.3 L381.4 395.9 L382.8 397.3 L384.3 397.4 L385.7 396.9 L387.2 396.1 L388.6 398.2 L390.1 396.2 L391.5 397.0 L393.0 398.0 L394.4 397.3 L395.9 398.4 L397.3 399.2 L398.8 397.6 L400.2 398.8 L401.7 398.6 L403.1 398.8 L404.6 398.1 L406.0 398.6 L407.5 400.5 L408.9 399.3 L410.4 399.8 L411.8 400.2 L413.3 399.7 L414.7 400.9 L416.2 401.0 L417.6 400.6 L419.1 401.7 L420.5 401.9 L422.0 402.2 L423.4 401.9 L424.9 402.5 L426.3 402.7 L427.8 403.4 L429.2 404.2 L430.7 403.6 L432.1 404.0 L433.6 404.0 L435.0 404.6 L436.5 404.9 L437.9 405.2 L439.4 405.5 L440.8 405.7 L442.3 406.0 L443.7 406.3 L445.2 406.5 L446.6 406.8 L448.1 407.0 L449.5 407.2 L451.0 407.4 L452.4 407.7 L453.9 407.9 L455.3 408.1 L456.8 408.2 L458.2 408.3 L459.7 408.5 L461.1 408.6 L462.6 408.7 L464.0 408.9 L465.5 409.0 L466.9 409.1 L468.4 409.1 L469.8 409.2 L471.3 409.2 L472.7 409.2 L474.2 409.3 L475.6 409.3 L477.1 409.4 L478.5 409.4 L480.0 409.4 L481.4 409.5 L482.9 409.5 L484.3 409.5 L485.8 409.5 L487.2 409.5 L488.7 409.5 L490.1 409.5 L491.6 409.5 L493.0 409.5 L494.5 409.5 L495.9 409.5 L497.4 409.5 L498.8 409.5 L500.3 409.5 L501.7 409.6 L503.2 409.6 L504.6 409.6 L506.1 409.6 L507.5 409.6 L509.0 409.6 L510.4 409.6 L511.9 409.6" stroke="#3a86de" stroke-width="1.65" fill="none" stroke-linejoin="round"/>
<path d="M320.0 409.3 L321.5 409.6 L323.0 409.5 L324.5 409.5 L326.0 408.4 L327.5 409.1 L329.0 408.9 L330.5 407.9 L332.0 408.0 L333.5 408.5 L335.0 407.6 L336.5 407.4 L338.0 407.5 L339.5 407.8 L341.0 406.9 L342.5 407.1 L344.0 406.7 L345.5 406.1 L347.0 406.1 L348.5 405.9 L350.0 406.6 L351.5 406.1 L353.0 405.7 L354.5 406.2 L356.0 404.8 L357.5 405.5 L359.0 405.3 L360.5 405.1 L362.0 405.0 L363.5 404.0 L365.0 404.2 L366.5 404.1 L368.0 404.0 L369.5 404.3 L371.0 403.8 L372.5 402.9 L374.0 402.8 L375.5 402.6 L377.0 403.1 L378.5 403.0 L380.0 403.0 L381.5 402.2 L383.0 402.2 L384.5 401.8 L386.0 401.6 L387.5 401.3 L389.0 401.3 L390.5 400.6 L392.0 401.1 L393.5 400.0 L395.0 400.2 L396.5 400.6 L398.0 400.1 L399.5 399.6 L401.0 399.6 L402.5 399.2 L404.0 399.2 L405.5 399.1 L407.0 398.2 L408.5 398.6 L410.0 397.9 L411.5 397.7 L413.0 397.8 L414.5 397.8 L416.0 397.1 L417.5 397.5 L419.0 396.8 L420.5 397.7 L422.0 397.1 L423.5 396.7 L425.0 397.2 L426.5 396.2 L428.0 397.4 L429.5 397.0 L431.0 397.7 L432.5 397.0 L434.0 397.6 L435.5 397.6 L437.0 398.1 L438.5 398.1 L440.0 398.3 L441.5 399.3 L443.0 399.8 L444.5 399.5 L446.0 400.8 L447.5 400.3 L449.0 401.6 L450.5 402.2 L452.0 402.7 L453.5 402.3 L455.0 402.6 L456.5 403.7 L458.0 403.8 L459.5 404.8 L461.0 404.4 L462.5 405.2 L464.0 406.2 L465.5 406.8 L467.0 406.5 L468.5 407.7 L470.0 407.2 L471.5 408.1 L473.0 408.3 L474.5 408.0 L476.0 408.5 L477.5 408.4 L479.0 409.0 L480.5 408.2 L482.0 409.1 L483.5 408.6 L485.0 409.6 L486.5 408.9 L488.0 408.7 L489.5 409.4 L491.0 409.6 L492.5 409.5 L494.0 409.2 L495.5 409.6 L497.0 409.3 L498.5 409.6 L500.0 409.5 L501.5 409.2 L503.0 409.6 L504.5 409.3 L506.0 409.6 L507.5 409.1 L509.0 409.6 L510.5 409.1 L512.0 409.0" stroke="#4aa6e2" stroke-width="1.4" fill="none"/>
<path d="M320.0 409.1 L321.5 409.4 L323.0 409.4 L324.5 409.1 L326.0 408.4 L327.5 408.5 L329.0 407.8 L330.5 408.6 L332.0 407.9 L333.5 407.3 L335.0 407.5 L336.5 407.3 L338.0 407.7 L339.5 407.5 L341.0 407.1 L342.5 406.2 L344.0 406.1 L345.5 406.7 L347.0 405.6 L348.5 406.5 L350.0 405.6 L351.5 405.0 L353.0 405.5 L354.5 404.6 L356.0 404.7 L357.5 405.2 L359.0 404.7 L360.5 404.4 L362.0 404.4 L363.5 403.6 L365.0 404.1 L366.5 403.1 L368.0 403.5 L369.5 403.6 L371.0 402.8 L372.5 403.1 L374.0 402.4 L375.5 401.9 L377.0 401.9 L378.5 401.9 L380.0 402.2 L381.5 401.4 L383.0 401.6 L384.5 400.7 L386.0 401.1 L387.5 400.3 L389.0 400.4 L390.5 400.1 L392.0 399.5 L393.5 399.9 L395.0 399.6 L396.5 398.5 L398.0 399.0 L399.5 398.1 L401.0 397.8 L402.5 398.1 L404.0 398.2 L405.5 398.0 L407.0 396.9 L408.5 397.5 L410.0 396.8 L411.5 396.6 L413.0 397.0 L414.5 396.4 L416.0 396.6 L417.5 396.0 L419.0 395.9 L420.5 395.9 L422.0 395.9 L423.5 395.5 L425.0 395.6 L426.5 395.6 L428.0 395.7 L429.5 395.2 L431.0 395.9 L432.5 395.6 L434.0 396.9 L435.5 396.0 L437.0 396.8 L438.5 396.7 L440.0 397.2 L441.5 397.6 L443.0 398.6 L444.5 398.5 L446.0 399.7 L447.5 400.1 L449.0 400.9 L450.5 401.0 L452.0 401.3 L453.5 402.1 L455.0 401.9 L456.5 403.4 L458.0 403.3 L459.5 404.2 L461.0 404.3 L462.5 404.5 L464.0 405.1 L465.5 406.4 L467.0 406.7 L468.5 406.8 L470.0 406.8 L471.5 408.1 L473.0 407.6 L474.5 407.7 L476.0 407.7 L477.5 408.5 L479.0 408.1 L480.5 408.7 L482.0 408.3 L483.5 409.6 L485.0 408.6 L486.5 409.3 L488.0 409.3 L489.5 409.6 L491.0 409.6 L492.5 409.0 L494.0 409.1 L495.5 409.6 L497.0 409.5 L498.5 409.6 L500.0 409.6 L501.5 409.6 L503.0 409.6 L504.5 408.9 L506.0 408.9 L507.5 409.2 L509.0 409.6 L510.5 409.6 L512.0 409.3" stroke="#2f6fd8" stroke-width="1.4" fill="none"/>
<path d="M320.0 409.1 L321.5 409.1 L323.0 409.0 L324.5 409.2 L326.0 408.5 L327.5 408.0 L329.0 407.8 L330.5 408.4 L332.0 407.5 L333.5 407.7 L335.0 407.8 L336.5 406.6 L338.0 406.8 L339.5 406.5 L341.0 407.0 L342.5 406.0 L344.0 405.7 L345.5 405.5 L347.0 405.5 L348.5 405.2 L350.0 405.0 L351.5 405.0 L353.0 405.0 L354.5 404.3 L356.0 404.1 L357.5 403.7 L359.0 404.2 L360.5 403.2 L362.0 403.5 L363.5 402.8 L365.0 403.5 L366.5 402.3 L368.0 402.3 L369.5 402.7 L371.0 401.8 L372.5 402.3 L374.0 402.1 L375.5 401.5 L377.0 401.6 L378.5 401.0 L380.0 400.3 L381.5 400.3 L383.0 400.0 L384.5 400.1 L386.0 399.4 L387.5 399.1 L389.0 399.0 L390.5 398.4 L392.0 398.3 L393.5 398.5 L395.0 398.7 L396.5 397.7 L398.0 397.2 L399.5 397.6 L401.0 397.0 L402.5 396.4 L404.0 396.2 L405.5 396.9 L407.0 396.1 L408.5 396.4 L410.0 396.0 L411.5 395.0 L413.0 395.3 L414.5 394.9 L416.0 394.9 L417.5 394.8 L419.0 394.8 L420.5 394.4 L422.0 393.7 L423.5 393.8 L425.0 394.0 L426.5 394.2 L428.0 394.2 L429.5 394.0 L431.0 394.5 L432.5 394.5 L434.0 394.6 L435.5 395.7 L437.0 395.3 L438.5 396.3 L440.0 395.6 L441.5 396.9 L443.0 397.4 L444.5 397.1 L446.0 398.4 L447.5 399.1 L449.0 398.9 L450.5 399.8 L452.0 400.0 L453.5 401.2 L455.0 401.6 L456.5 401.6 L458.0 402.7 L459.5 402.7 L461.0 404.2 L462.5 404.0 L464.0 405.4 L465.5 405.5 L467.0 406.7 L468.5 407.0 L470.0 406.7 L471.5 407.4 L473.0 407.2 L474.5 408.1 L476.0 408.1 L477.5 408.6 L479.0 408.3 L480.5 408.1 L482.0 408.7 L483.5 409.1 L485.0 408.6 L486.5 408.7 L488.0 409.0 L489.5 409.6 L491.0 409.1 L492.5 409.3 L494.0 408.7 L495.5 409.5 L497.0 409.1 L498.5 409.2 L500.0 409.5 L501.5 409.4 L503.0 409.2 L504.5 409.0 L506.0 409.5 L507.5 409.6 L509.0 409.0 L510.5 409.6 L512.0 409.2" stroke="#1d2fa8" stroke-width="1.4" fill="none"/>
<path d="M345.5 409.6 L346.5 406.4 L347.5 403.2 L348.5 399.9 L349.5 396.6 L350.5 394.5 L351.5 389.6 L352.5 391.7 L353.5 386.3 L354.5 381.8 L355.5 383.3 L356.5 383.4 L357.5 380.2 L358.5 378.1 L359.5 379.4 L360.5 377.9 L361.5 376.2 L362.5 373.7 L363.5 371.8 L364.5 371.7 L365.5 371.1 L366.5 371.2 L367.5 366.7 L368.5 363.3 L369.5 363.7 L370.5 362.6 L371.5 360.6 L372.5 362.6 L373.5 357.4 L374.5 358.2 L375.5 356.4 L376.5 354.7 L377.5 354.7 L378.5 354.8 L379.5 354.1 L380.5 352.8 L381.5 348.8 L382.5 348.0 L383.5 344.6 L384.5 347.2 L385.5 342.8 L386.5 337.1 L387.5 340.1 L388.5 336.3 L389.5 335.3 L390.5 335.4 L391.5 328.6 L392.5 332.5 L393.5 327.4 L394.5 330.7 L395.5 330.0 L396.5 322.5 L397.5 324.3 L398.5 325.7 L399.5 321.7 L400.5 319.8 L401.5 315.7 L402.5 318.2 L403.5 315.1 L404.5 307.2 L405.5 306.6 L406.5 308.6 L407.5 304.8 L408.5 302.3 L409.5 297.5 L410.5 296.0 L411.5 292.7 L412.5 291.4 L413.5 292.2 L414.5 289.2 L415.5 288.0 L416.5 286.6 L417.5 287.6 L418.5 284.0 L419.5 283.5 L420.5 280.9 L421.5 285.9 L422.5 279.3 L423.5 285.0 L424.5 278.3 L425.5 278.9 L426.5 279.8 L427.5 276.9 L428.5 280.6 L429.5 283.6 L430.5 282.6 L431.5 283.8 L432.5 287.6 L433.5 291.8 L434.5 293.7 L435.5 296.0 L436.5 296.2 L437.5 301.6 L438.5 303.1 L439.5 304.1 L440.5 307.7 L441.5 310.6 L442.5 309.5 L443.5 311.4 L444.5 316.4 L445.5 319.2 L446.5 323.9 L447.5 325.9 L448.5 330.1 L449.5 329.7 L450.5 332.6 L451.5 339.3 L452.5 335.9 L453.5 343.2 L454.5 341.9 L455.5 344.7 L456.5 346.4 L457.5 354.8 L458.5 355.8 L459.5 354.7 L460.5 364.8 L461.5 367.9 L462.5 367.4 L463.5 371.2 L464.5 371.4 L465.5 375.9 L466.5 380.9 L467.5 379.2 L468.5 384.7 L469.5 386.6 L470.5 386.8 L471.5 390.3 L472.5 391.7 L473.5 391.4 L474.5 394.2 L475.5 391.8 L476.5 394.5 L477.5 396.4 L478.5 399.6 L479.5 399.1 L480.5 400.0 L481.5 400.2 L482.5 401.2 L483.5 401.0 L484.5 401.7 L485.5 404.0 L486.5 404.7 L487.5 404.6 L488.5 403.9 L489.5 406.5 L490.5 406.5 L491.5 407.0 L492.5 407.5 L493.5 408.0 L494.5 408.1 L495.5 408.2 L496.5 408.3 L497.5 408.4 L498.5 408.5 L499.5 408.6 L500.5 408.7 L501.5 408.8 L502.5 409.0 L503.5 409.1 L504.5 409.1 L505.5 409.2 L506.5 409.3 L507.5 409.3 L508.5 409.4 L509.5 409.4 L510.5 409.5 L511.5 409.6" stroke="#1d49b8" stroke-width="1.6" fill="none"/>
<path d="M426.3 264V268" stroke="#1414c8" stroke-width="1.5"/><path d="M423 266L426.3 274L429.7 266L426.3 268Z" fill="#1414c8"/>
<rect x="410.5" y="238.8" width="14" height="5.4" fill="#f4e6f8" stroke="#3a3ab8" stroke-width="1.2"/>
<text x="428.5" y="245.5" font-size="12.1" fill="#231f20" stroke="#231f20" stroke-width="0.1">Clean TiO<tspan font-size="8.5" dy="3">2</tspan><tspan dy="-3"> × 8</tspan></text>
<text x="472.9" y="385.5" font-size="11.5" font-style="italic" fill="#231f20" stroke="#231f20" stroke-width="0.1">E<tspan font-size="8" dy="2.5" font-style="normal">F</tspan><tspan dy="-2.5" font-style="normal">+2</tspan>hv</text>
<path d="M488.3 390V409" stroke="#231f20" stroke-width="1"/>
<path d="M319.2 39.4H512.0V409.6H319.2Z" stroke="#333" stroke-width="1.3" fill="none"/>
<path d="M319.2 224.9H512.0" stroke="#333" stroke-width="0.6"/>
<path d="M348.8 39.4V35.4M380.7 39.4V35.4M412.7 39.4V35.4M444.6 39.4V35.4M476.5 39.4V35.4M508.5 39.4V35.4M339.6 409.6V413.1M339.6 224.9V228.4M371.3 409.6V413.1M371.3 224.9V228.4M403.0 409.6V413.1M403.0 224.9V228.4M434.7 409.6V413.1M434.7 224.9V228.4M466.4 409.6V413.1M466.4 224.9V228.4M498.1 409.6V413.1M498.1 224.9V228.4M319.2 224.4H316.2M319.2 189.8H316.2M319.2 155.2H316.2M319.2 120.6H316.2M319.2 86.0H316.2M319.2 409.6H316.2M319.2 383.3H316.2M319.2 357.0H316.2M319.2 330.7H316.2M319.2 304.4H316.2M319.2 278.1H316.2M319.2 251.8H316.2" stroke="#333" stroke-width="1.2"/>
<text x="349.1" y="29.6" font-size="12" fill="#231f20" stroke="#231f20" stroke-width="0.1" text-anchor="middle" letter-spacing="0.6">1.5</text>
<text x="381" y="29.6" font-size="12" fill="#231f20" stroke="#231f20" stroke-width="0.1" text-anchor="middle" letter-spacing="0.6">2.0</text>
<text x="413" y="29.6" font-size="12" fill="#231f20" stroke="#231f20" stroke-width="0.1" text-anchor="middle" letter-spacing="0.6">2.5</text>
<text x="444.9" y="29.6" font-size="12" fill="#231f20" stroke="#231f20" stroke-width="0.1" text-anchor="middle" letter-spacing="0.6">3.0</text>
<text x="476.8" y="29.6" font-size="12" fill="#231f20" stroke="#231f20" stroke-width="0.1" text-anchor="middle" letter-spacing="0.6">3.5</text>
<text x="508.8" y="29.6" font-size="12" fill="#231f20" stroke="#231f20" stroke-width="0.1" text-anchor="middle" letter-spacing="0.6">4.0</text>
<text x="340.6" y="429.6" font-size="12.3" fill="#231f20" stroke="#231f20" stroke-width="0.1" text-anchor="middle" letter-spacing="0.6">5.0</text>
<text x="372.4" y="429.6" font-size="12.3" fill="#231f20" stroke="#231f20" stroke-width="0.1" text-anchor="middle" letter-spacing="0.6">5.5</text>
<text x="404.1" y="429.6" font-size="12.3" fill="#231f20" stroke="#231f20" stroke-width="0.1" text-anchor="middle" letter-spacing="0.6">6.0</text>
<text x="435.9" y="429.6" font-size="12.3" fill="#231f20" stroke="#231f20" stroke-width="0.1" text-anchor="middle" letter-spacing="0.6">6.5</text>
<text x="467.6" y="429.6" font-size="12.3" fill="#231f20" stroke="#231f20" stroke-width="0.1" text-anchor="middle" letter-spacing="0.6">7.0</text>
<text x="499.4" y="429.6" font-size="12.3" fill="#231f20" stroke="#231f20" stroke-width="0.1" text-anchor="middle" letter-spacing="0.6">7.5</text>
<text x="311.6" y="228.9" font-size="12.5" fill="#231f20" stroke="#231f20" stroke-width="0.1" text-anchor="end" >0</text>
<text x="311.6" y="194.3" font-size="12.5" fill="#231f20" stroke="#231f20" stroke-width="0.1" text-anchor="end" >2</text>
<text x="311.6" y="159.7" font-size="12.5" fill="#231f20" stroke="#231f20" stroke-width="0.1" text-anchor="end" >4</text>
<text x="311.6" y="125.1" font-size="12.5" fill="#231f20" stroke="#231f20" stroke-width="0.1" text-anchor="end" >6</text>
<text x="311.6" y="90.5" font-size="12.5" fill="#231f20" stroke="#231f20" stroke-width="0.1" text-anchor="end" >8</text>
<text x="312.4" y="414.1" font-size="12.2" fill="#231f20" stroke="#231f20" stroke-width="0.1" text-anchor="end" letter-spacing="0.6">0</text>
<text x="312.4" y="387.8" font-size="12.2" fill="#231f20" stroke="#231f20" stroke-width="0.1" text-anchor="end" letter-spacing="0.6">0.1</text>
<text x="312.4" y="361.5" font-size="12.2" fill="#231f20" stroke="#231f20" stroke-width="0.1" text-anchor="end" letter-spacing="0.6">0.2</text>
<text x="312.4" y="335.2" font-size="12.2" fill="#231f20" stroke="#231f20" stroke-width="0.1" text-anchor="end" letter-spacing="0.6">0.3</text>
<text x="312.4" y="308.9" font-size="12.2" fill="#231f20" stroke="#231f20" stroke-width="0.1" text-anchor="end" letter-spacing="0.6">0.4</text>
<text x="312.4" y="282.6" font-size="12.2" fill="#231f20" stroke="#231f20" stroke-width="0.1" text-anchor="end" letter-spacing="0.6">0.5</text>
<text x="312.4" y="256.3" font-size="12.2" fill="#231f20" stroke="#231f20" stroke-width="0.1" text-anchor="end" letter-spacing="0.6">0.6</text>
<text x="357.3" y="445.5" font-size="12.3" fill="#231f20" stroke="#231f20" stroke-width="0.1" text-anchor="start" >Final state energy (eV)</text>
<text x="274" y="469" font-size="25" fill="#231f20" stroke="#231f20" stroke-width="0.1" text-anchor="start" >(d)</text>
<path d="M367.08 639.3V644.1M369.52 635.1V645.3M371.96 634.9V645.6M374.41 630.6V642.6M376.85 622.9V644.4M379.29 624.4V650.2M381.73 612.6V650.4M384.18 611.6V649.4M386.62 604.6V654.8M389.06 600.9V653.7M391.51 595.6V655.0M393.95 586.7V656.9M396.39 583.2V659.3M398.84 573.9V660.6M401.28 561.9V663.2M403.72 556.5V662.9M406.16 544.0V661.1M408.61 538.1V665.7M411.05 531.4V664.1M413.49 517.2V666.0M415.94 515.8V665.0M418.38 507.0V665.8M420.82 496.2V665.9M423.27 489.9V668.3M425.71 490.6V672.0M428.15 479.2V668.9M430.59 482.7V668.7M433.04 475.0V670.2M435.48 472.1V669.3M437.92 475.0V670.0M440.37 481.5V669.2M442.81 477.3V672.4M445.25 483.3V671.6M447.70 489.8V670.8M450.14 492.6V666.8M452.58 503.1V667.9M455.02 508.5V668.2M457.47 518.1V665.2M459.91 522.8V667.7M462.35 532.7V663.4M464.80 542.3V662.2M467.24 552.2V660.0M469.68 561.2V661.7M472.13 565.2V662.6M474.57 572.4V657.7M477.01 578.3V658.3M479.45 591.6V657.8M481.90 595.2V657.3M484.34 598.7V653.2M486.78 609.2V655.3M489.23 614.3V652.1M491.67 620.3V648.6M494.11 626.1V648.6M496.56 624.7V645.2M499.00 632.5V643.9M501.44 631.3V646.2" stroke="#f2b846" stroke-width="1.2"/>
<path d="M365.9 642.6 L367.1 641.6 L368.3 640.5 L369.5 639.2 L370.7 637.8 L372.0 636.4 L373.2 634.9 L374.4 633.3 L375.6 631.7 L376.8 630.0 L378.1 628.2 L379.3 626.4 L380.5 624.5 L381.7 622.5 L383.0 620.3 L384.2 618.1 L385.4 615.7 L386.6 613.1 L387.8 610.5 L389.1 607.7 L390.3 604.8 L391.5 601.7 L392.7 598.5 L393.9 595.2 L395.2 591.7 L396.4 588.1 L397.6 584.4 L398.8 580.6 L400.1 576.7 L401.3 572.7 L402.5 568.6 L403.7 564.4 L404.9 560.2 L406.2 556.0 L407.4 551.7 L408.6 547.4 L409.8 543.1 L411.1 538.8 L412.3 534.5 L413.5 530.3 L414.7 526.2 L415.9 522.2 L417.2 518.3 L418.4 514.5 L419.6 510.8 L420.8 507.4 L422.0 504.1 L423.3 501.0 L424.5 498.2 L425.7 495.5 L426.9 493.2 L428.2 491.1 L429.4 489.2 L430.6 487.7 L431.8 486.4 L433.0 485.5 L434.3 484.8 L435.5 484.5 L436.7 484.5 L437.9 484.8 L439.1 485.4 L440.4 486.3 L441.6 487.5 L442.8 489.0 L444.0 490.8 L445.3 492.9 L446.5 495.2 L447.7 497.8 L448.9 500.6 L450.1 503.6 L451.4 506.9 L452.6 510.3 L453.8 513.9 L455.0 517.7 L456.2 521.6 L457.5 525.6 L458.7 529.7 L459.9 533.9 L461.1 538.2 L462.4 542.4 L463.6 546.7 L464.8 551.0 L466.0 555.3 L467.2 559.6 L468.5 563.8 L469.7 568.0 L470.9 572.1 L472.1 576.1 L473.3 580.1 L474.6 583.9 L475.8 587.6 L477.0 591.2 L478.2 594.7 L479.5 598.0 L480.7 601.3 L481.9 604.3 L483.1 607.3 L484.3 610.1 L485.6 612.8 L486.8 615.3 L488.0 617.7 L489.2 620.0 L490.4 622.2 L491.7 624.2 L492.9 626.1 L494.1 628.0 L495.3 629.8 L496.6 631.4 L497.8 633.1 L499.0 634.6 L500.2 636.2 L501.4 637.6 L501.4 643.1 L500.2 643.3 L499.0 643.6 L497.8 644.0 L496.6 644.5 L495.3 645.1 L494.1 645.9 L492.9 646.8 L491.7 647.6 L490.4 648.5 L489.2 649.4 L488.0 650.2 L486.8 651.0 L485.6 651.7 L484.3 652.3 L483.1 652.9 L481.9 653.5 L480.7 654.0 L479.5 654.5 L478.2 655.0 L477.0 655.4 L475.8 655.9 L474.6 656.3 L473.3 656.8 L472.1 657.2 L470.9 657.6 L469.7 658.1 L468.5 658.5 L467.2 658.9 L466.0 659.3 L464.8 659.7 L463.6 660.0 L462.4 660.4 L461.1 660.8 L459.9 661.1 L458.7 661.4 L457.5 661.8 L456.2 662.1 L455.0 662.4 L453.8 662.6 L452.6 662.9 L451.4 663.1 L450.1 663.4 L448.9 663.6 L447.7 663.8 L446.5 664.0 L445.3 664.1 L444.0 664.2 L442.8 664.4 L441.6 664.5 L440.4 664.5 L439.1 664.6 L437.9 664.6 L436.7 664.7 L435.5 664.7 L434.3 664.6 L433.0 664.6 L431.8 664.5 L430.6 664.4 L429.4 664.3 L428.2 664.2 L426.9 664.1 L425.7 663.9 L424.5 663.8 L423.3 663.6 L422.0 663.3 L420.8 663.1 L419.6 662.9 L418.4 662.6 L417.2 662.3 L415.9 662.0 L414.7 661.7 L413.5 661.4 L412.3 661.1 L411.1 660.7 L409.8 660.4 L408.6 660.0 L407.4 659.6 L406.2 659.2 L404.9 658.8 L403.7 658.4 L402.5 658.0 L401.3 657.6 L400.1 657.1 L398.8 656.7 L397.6 656.3 L396.4 655.8 L395.2 655.4 L393.9 654.9 L392.7 654.4 L391.5 653.9 L390.3 653.4 L389.1 652.8 L387.8 652.2 L386.6 651.6 L385.4 650.9 L384.2 650.1 L383.0 649.3 L381.7 648.4 L380.5 647.5 L379.3 646.6 L378.1 645.8 L376.8 645.1 L375.6 644.4 L374.4 643.9 L373.2 643.5 L372.0 643.3 L370.7 643.1 L369.5 643.0 L368.3 642.9 L367.1 642.8 L365.9 642.8Z" fill="#5e5cda"/>
<path d="M365.85 640.6V643.8M368.30 638.8V645.3M370.74 634.1V643.6M373.18 630.4V644.4M375.63 629.2V647.0M378.07 626.6V647.5M380.51 621.1V649.4M382.96 615.9V652.3M385.40 614.2V654.1M387.84 605.0V655.1M390.28 602.6V655.8M392.73 597.0V658.5M395.17 589.0V659.4M397.61 580.9V660.8M400.06 569.8V661.3M402.50 564.9V662.1M404.94 553.6V661.3M407.39 546.8V665.1M409.83 535.9V664.0M412.27 526.7V664.5M414.71 520.8V668.6M417.16 513.4V667.3M419.60 505.1V667.1M422.04 499.0V668.7M424.49 487.8V670.4M426.93 483.5V669.6M429.37 478.9V670.6M431.82 479.0V672.2M434.26 474.2V672.4M436.70 474.3V670.3M439.14 478.3V670.6M441.59 478.7V671.2M444.03 481.5V671.7M446.47 486.0V671.4M448.92 495.2V669.8M451.36 497.0V670.0M453.80 504.3V668.3M456.25 514.6V665.9M458.69 524.2V667.3M461.13 532.7V665.2M463.57 541.1V664.9M466.02 548.3V664.8M468.46 561.7V663.5M470.90 570.1V660.6M473.35 578.4V658.6M475.79 583.2V657.6M478.23 590.4V658.4M480.68 598.7V656.4M483.12 602.8V654.1M485.56 608.9V653.0M488.00 612.8V653.0M490.45 619.3V650.1M492.89 621.6V649.0M495.33 625.4V645.7M497.78 631.0V645.9M500.22 635.9V645.3" stroke="#2418a0" stroke-width="1.3"/>
<path d="M321.7 645.6 L322.3 646.3 L322.9 643.4 L323.5 642.5 L324.1 645.9 L324.8 645.5 L325.4 643.5 L326.0 642.9 L326.6 644.9 L327.2 645.3 L327.8 644.1 L328.4 643.7 L329.0 645.0 L329.6 646.7 L330.3 642.5 L330.9 642.6 L331.5 646.1 L332.1 646.8 L332.7 644.5 L333.3 643.3 L333.9 646.0 L334.5 645.5 L335.1 643.6 L335.8 642.5 L336.4 645.1 L337.0 646.2 L337.6 643.1 L338.2 642.2 L338.8 646.4 L339.4 646.0 L340.0 642.3 L340.6 642.2 L341.3 645.2 L341.9 645.3 L342.5 641.7 L343.1 641.7 L343.7 646.3 L344.3 646.5 L344.9 642.2 L345.5 643.5 L346.1 646.8 L346.7 647.4 L347.4 643.1 L348.0 641.4 L348.6 645.2 L349.2 645.0 L349.8 644.2 L350.4 644.5 L351.0 645.5 L351.6 647.1 L352.2 642.3 L352.9 640.8 L353.5 645.8 L354.1 647.5 L354.7 641.3 L355.3 640.7 L355.9 646.3 L356.5 647.5 L357.1 641.4 L357.7 641.1 L358.4 644.7 L359.0 644.9 L359.6 641.7 L360.2 640.7 L360.8 644.6 L361.4 645.0 L362.0 641.4 L362.6 640.3 L363.2 645.4 L363.8 645.6 L364.5 641.4 L365.1 640.5 L365.7 645.7 L366.3 645.7 L366.9 643.1 L367.5 642.9 L368.1 644.9 L368.7 645.5 L369.3 644.0 L370.0 644.3" stroke="#f0b443" stroke-width="1.3" fill="none" stroke-linejoin="round"/>
<path d="M321.7 644.0 L322.3 648.5 L322.9 647.3 L323.5 641.6 L324.1 641.6 L324.8 647.9 L325.4 647.9 L326.0 642.9 L326.6 643.6 L327.2 648.3 L327.8 646.8 L328.4 642.3 L329.0 643.2 L329.6 648.8 L330.3 648.0 L330.9 642.5 L331.5 642.7 L332.1 648.3 L332.7 647.2 L333.3 644.1 L333.9 644.8 L334.5 648.9 L335.1 647.1 L335.8 643.7 L336.4 644.2 L337.0 645.9 L337.6 645.9 L338.2 644.0 L338.8 643.7 L339.4 645.2 L340.0 644.6 L340.6 643.3 L341.3 643.7 L341.9 646.1 L342.5 645.5 L343.1 642.8 L343.7 642.6 L344.3 646.3 L344.9 645.6 L345.5 641.7 L346.1 642.5 L346.7 645.3 L347.4 644.5 L348.0 641.8 L348.6 641.6 L349.2 644.2 L349.8 644.8 L350.4 641.9 L351.0 643.3 L351.6 646.8 L352.2 645.9 L352.9 643.9 L353.5 644.3 L354.1 645.6 L354.7 645.8 L355.3 641.8 L355.9 641.8 L356.5 646.9 L357.1 646.5 L357.7 643.3 L358.4 643.3 L359.0 645.4 L359.6 645.0 L360.2 643.0 L360.8 643.9 L361.4 647.8 L362.0 645.8 L362.6 643.5 L363.2 644.4 L363.8 646.3 L364.5 645.4 L365.1 644.4 L365.7 643.8 L366.3 647.2 L366.9 647.4 L367.5 642.1 L368.1 642.6 L368.7 646.4 L369.3 645.5 L370.0 643.7" stroke="#1c1c9a" stroke-width="1.35" fill="none" stroke-linejoin="round"/>
<path d="M497.6 645.1 L498.2 645.4 L498.8 641.7 L499.4 640.2 L500.0 644.9 L500.7 644.4 L501.3 643.5 L501.9 643.0 L502.5 644.8 L503.1 644.5 L503.7 644.0 L504.3 644.3 L504.9 646.3 L505.5 647.1 L506.2 643.7 L506.8 643.7 L507.4 646.0 L508.0 647.0 L508.6 644.7 L509.2 641.5 L509.8 647.6 L510.4 648.5 L511.0 642.4 L511.6 641.2 L512.3 646.8 L512.9 647.8 L513.5 641.4 L514.1 639.8 L514.7 645.7 L515.3 646.2" stroke="#f0b443" stroke-width="1.3" fill="none" stroke-linejoin="round"/>
<path d="M497.6 643.0 L498.2 646.0 L498.8 645.1 L499.4 643.7 L500.0 643.9 L500.7 646.4 L501.3 645.7 L501.9 643.2 L502.5 644.1 L503.1 647.0 L503.7 646.1 L504.3 643.5 L504.9 641.8 L505.5 645.4 L506.2 645.8 L506.8 643.2 L507.4 644.0 L508.0 646.5 L508.6 646.3 L509.2 644.2 L509.8 645.0 L510.4 647.4 L511.0 646.3 L511.6 644.0 L512.3 643.6 L512.9 645.8 L513.5 645.8 L514.1 643.1 L514.7 642.6 L515.3 646.0" stroke="#1c1c9a" stroke-width="1.35" fill="none" stroke-linejoin="round"/>
<rect x="320.6" y="473.4" width="195.8" height="200.6" fill="none" stroke="#333" stroke-width="1.3"/>
<path d="M320.6 643.6H316.6M320.6 610.1H316.6M320.6 576.6H316.6M320.6 543.1H316.6M320.6 509.6H316.6M320.6 476.1H316.6M332.7 674V677.5M367.6 674V677.5M402.5 674V677.5M437.4 674V677.5M472.3 674V677.5M507.2 674V677.5" stroke="#333" stroke-width="1.2"/>
<text x="333.5" y="693.8" font-size="12.8" fill="#231f20" stroke="#231f20" stroke-width="0.1" text-anchor="middle" letter-spacing="0.8">-60</text>
<text x="368.4" y="693.8" font-size="12.8" fill="#231f20" stroke="#231f20" stroke-width="0.1" text-anchor="middle" letter-spacing="0.8">-40</text>
<text x="403.3" y="693.8" font-size="12.8" fill="#231f20" stroke="#231f20" stroke-width="0.1" text-anchor="middle" letter-spacing="0.8">-20</text>
<text x="438.6" y="693.8" font-size="12.8" fill="#231f20" stroke="#231f20" stroke-width="0.1" text-anchor="middle" letter-spacing="0.8">0</text>
<text x="473.5" y="693.8" font-size="12.8" fill="#231f20" stroke="#231f20" stroke-width="0.1" text-anchor="middle" letter-spacing="0.8">20</text>
<text x="508.4" y="693.8" font-size="12.8" fill="#231f20" stroke="#231f20" stroke-width="0.1" text-anchor="middle" letter-spacing="0.8">40</text>
<text x="377.8" y="712.6" font-size="12.2" fill="#231f20" stroke="#231f20" stroke-width="0.1" text-anchor="start" >Time delay (fs)</text>
<text transform="translate(307.3,630.3) rotate(-90)" font-size="12.7" fill="#231f20" stroke="#231f20" stroke-width="0.1">Normalized intensity</text>
<path d="M328.7 489.8H339" stroke="#f2c466" stroke-width="1.3"/><path d="M328.7 501H339" stroke="#4a4a82" stroke-width="1.3"/>
<text x="342.3" y="493.4" font-size="11.3" fill="#231f20" stroke="#231f20" stroke-width="0.1"><tspan font-style="italic">p</tspan>-polarized</text>
<text x="342.3" y="504.8" font-size="11.3" fill="#231f20" stroke="#231f20" stroke-width="0.1"><tspan font-style="italic">s</tspan>-polarized</text></svg>
</body></html>
